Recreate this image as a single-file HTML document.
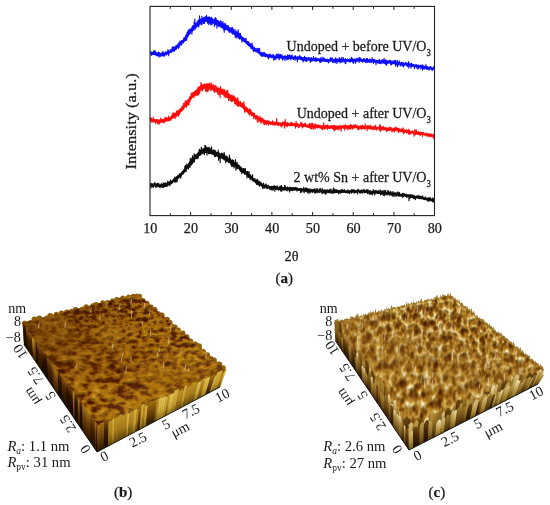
<!DOCTYPE html>
<html lang="en"><head><meta charset="utf-8"><title>Figure</title>
<style>html,body{margin:0;padding:0;background:#fff}body{width:550px;height:505px;overflow:hidden}svg{display:block}</style>
</head><body>
<svg width="550" height="505" viewBox="0 0 550 505">
<defs>
<filter id="soft" x="-5%" y="-5%" width="110%" height="110%"><feGaussianBlur stdDeviation="0.55"/></filter>
<filter id="soft2" x="-5%" y="-5%" width="110%" height="110%"><feGaussianBlur stdDeviation="0.35"/></filter>
<filter id="tex1" x="0" y="0" width="1" height="1" color-interpolation-filters="sRGB">
<feTurbulence type="fractalNoise" baseFrequency="0.175 0.27" numOctaves="2" seed="5" result="n0"/>
<feColorMatrix in="n0" type="matrix" values="1 0 0 0 0  1 0 0 0 0  1 0 0 0 0  0 0 0 0 1" result="n"/>
<feTurbulence type="fractalNoise" baseFrequency="0.03 0.05" numOctaves="2" seed="9" result="lo0"/>
<feColorMatrix in="lo0" type="matrix" values="1 0 0 0 0  1 0 0 0 0  1 0 0 0 0  0 0 0 0 1" result="lo"/>
<feComposite in="n" in2="lo" operator="arithmetic" k1="0" k2="1" k3="0.45" k4="-0.225" result="hh"/>
<feColorMatrix in="hh" type="matrix" values="0 0 0 0 0  0 0 0 0 0  0 0 0 0 0  1.6 0 0 0 -0.3" result="h"/>
<feDiffuseLighting in="h" surfaceScale="2.5" diffuseConstant="1.3" lighting-color="#fff" result="light"><feDistantLight azimuth="250" elevation="60"/></feDiffuseLighting>
<feComponentTransfer in="hh" result="col">
<feFuncR type="table" tableValues="0.27 0.28 0.30 0.35 0.47 0.61 0.67 0.71 0.75 0.82 0.90"/>
<feFuncG type="table" tableValues="0.08 0.08 0.10 0.13 0.24 0.38 0.44 0.48 0.54 0.63 0.76"/>
<feFuncB type="table" tableValues="0.02 0.02 0.02 0.02 0.02 0.04 0.05 0.07 0.12 0.22 0.40"/>
</feComponentTransfer>
<feComposite in="col" in2="light" operator="arithmetic" k1="0.4" k2="0.6" k3="0" k4="0"/>
</filter>
<filter id="tex1f" x="0" y="0" width="1" height="1" color-interpolation-filters="sRGB">
<feTurbulence type="fractalNoise" baseFrequency="0.12 0.185" numOctaves="2" seed="6" result="n0"/>
<feColorMatrix in="n0" type="matrix" values="1 0 0 0 0  1 0 0 0 0  1 0 0 0 0  0 0 0 0 1" result="n"/>
<feTurbulence type="fractalNoise" baseFrequency="0.03 0.05" numOctaves="2" seed="9" result="lo0"/>
<feColorMatrix in="lo0" type="matrix" values="1 0 0 0 0  1 0 0 0 0  1 0 0 0 0  0 0 0 0 1" result="lo"/>
<feComposite in="n" in2="lo" operator="arithmetic" k1="0" k2="1" k3="0.45" k4="-0.225" result="hh"/>
<feColorMatrix in="hh" type="matrix" values="0 0 0 0 0  0 0 0 0 0  0 0 0 0 0  1.6 0 0 0 -0.3" result="h"/>
<feDiffuseLighting in="h" surfaceScale="2.5" diffuseConstant="1.3" lighting-color="#fff" result="light"><feDistantLight azimuth="250" elevation="60"/></feDiffuseLighting>
<feComponentTransfer in="hh" result="col">
<feFuncR type="table" tableValues="0.27 0.28 0.30 0.35 0.47 0.61 0.67 0.71 0.75 0.82 0.90"/>
<feFuncG type="table" tableValues="0.08 0.08 0.10 0.13 0.24 0.38 0.44 0.48 0.54 0.63 0.76"/>
<feFuncB type="table" tableValues="0.02 0.02 0.02 0.02 0.02 0.04 0.05 0.07 0.12 0.22 0.40"/>
</feComponentTransfer>
<feComposite in="col" in2="light" operator="arithmetic" k1="0.4" k2="0.6" k3="0" k4="0"/>
</filter>
<filter id="tex2" x="0" y="0" width="1" height="1" color-interpolation-filters="sRGB">
<feTurbulence type="fractalNoise" baseFrequency="0.21 0.14" numOctaves="2" seed="8" result="n0"/>
<feColorMatrix in="n0" type="matrix" values="1.4 0 0 0 -0.2  1.4 0 0 0 -0.2  1.4 0 0 0 -0.2  0 0 0 0 1" result="n"/>
<feColorMatrix in="n" type="matrix" values="0 0 0 0 0  0 0 0 0 0  0 0 0 0 0  1 0 0 0 0" result="h"/>
<feDiffuseLighting in="h" surfaceScale="3" diffuseConstant="1.25" lighting-color="#fff" result="light"><feDistantLight azimuth="265" elevation="55"/></feDiffuseLighting>
<feComponentTransfer in="n" result="col">
<feFuncR type="table" tableValues="0.30 0.34 0.40 0.48 0.57 0.65 0.73 0.81 0.88 0.93 0.97"/>
<feFuncG type="table" tableValues="0.13 0.16 0.21 0.28 0.37 0.46 0.56 0.67 0.77 0.85 0.92"/>
<feFuncB type="table" tableValues="0.02 0.02 0.03 0.05 0.09 0.14 0.22 0.35 0.50 0.64 0.78"/>
</feComponentTransfer>
<feComposite in="col" in2="light" operator="arithmetic" k1="0.45" k2="0.58" k3="0" k4="0"/>
</filter>
<filter id="tex2f" x="0" y="0" width="1" height="1" color-interpolation-filters="sRGB">
<feTurbulence type="fractalNoise" baseFrequency="0.16 0.105" numOctaves="2" seed="4" result="n0"/>
<feColorMatrix in="n0" type="matrix" values="1.4 0 0 0 -0.2  1.4 0 0 0 -0.2  1.4 0 0 0 -0.2  0 0 0 0 1" result="n"/>
<feColorMatrix in="n" type="matrix" values="0 0 0 0 0  0 0 0 0 0  0 0 0 0 0  1 0 0 0 0" result="h"/>
<feDiffuseLighting in="h" surfaceScale="3" diffuseConstant="1.25" lighting-color="#fff" result="light"><feDistantLight azimuth="265" elevation="55"/></feDiffuseLighting>
<feComponentTransfer in="n" result="col">
<feFuncR type="table" tableValues="0.30 0.34 0.40 0.48 0.57 0.65 0.73 0.81 0.88 0.93 0.97"/>
<feFuncG type="table" tableValues="0.13 0.16 0.21 0.28 0.37 0.46 0.56 0.67 0.77 0.85 0.92"/>
<feFuncB type="table" tableValues="0.02 0.02 0.03 0.05 0.09 0.14 0.22 0.35 0.50 0.64 0.78"/>
</feComponentTransfer>
<feComposite in="col" in2="light" operator="arithmetic" k1="0.45" k2="0.58" k3="0" k4="0"/>
</filter>
</defs>
<rect width="550" height="505" fill="#fff"/>
<g stroke-linejoin="round" filter="url(#soft2)">
<path d="M150.4,53.2 150.6,53.7 150.8,52.9 150.9,51.9 151.1,52.6 151.3,51.9 151.5,53.5 151.6,55.4 151.8,52.7 152,52.5 152.2,54.2 152.4,54.1 152.5,53.7 152.7,52.2 152.9,53.6 153.1,54.7 153.2,51.7 153.4,53 153.6,50.9 153.8,51.9 153.9,51.1 154.1,53.5 154.3,52 154.5,54.3 154.7,54.2 154.8,53.7 155,50.3 155.2,53.3 155.4,54 155.5,54.3 155.7,51.9 155.9,53.5 156.1,52.7 156.3,53 156.4,55.8 156.6,53 156.8,54.2 157,55.6 157.1,53.4 157.3,54.1 157.5,54.4 157.7,54.4 157.9,52.5 158,54.4 158.2,56.3 158.4,52.1 158.6,55.6 158.7,54.5 158.9,53.4 159.1,57.3 159.3,55.5 159.5,52.6 159.6,54.5 159.8,55.3 160,54.1 160.2,55.4 160.3,54.3 160.5,55.4 160.7,56.6 160.9,53.5 161,54.8 161.2,53.8 161.4,54.6 161.6,52.7 161.8,53.5 161.9,54.1 162.1,55.7 162.3,56 162.5,52.3 162.6,53 162.8,55.1 163,51.2 163.2,53.4 163.4,53.9 163.5,55.9 163.7,55 163.9,53.4 164.1,53.3 164.2,53.5 164.4,56.1 164.6,53.1 164.8,53.3 165,54.2 165.1,53.5 165.3,53.3 165.5,51.9 165.7,53.5 165.8,52.8 166,55.2 166.2,54.4 166.4,53.3 166.6,54.3 166.7,52.7 166.9,54.8 167.1,53.1 167.3,53.9 167.4,51 167.6,53.4 167.8,50.2 168,49.6 168.1,52.2 168.3,51.2 168.5,52.7 168.7,55.8 168.9,51 169,51.2 169.2,52.4 169.4,52.7 169.6,51.6 169.7,51.5 169.9,52.8 170.1,52.4 170.3,49.9 170.5,51.3 170.6,51.4 170.8,49.6 171,51.6 171.2,49.7 171.3,52.5 171.5,51.2 171.7,50.9 171.9,49.8 172.1,50.4 172.2,47.3 172.4,48.6 172.6,50.8 172.8,46.7 172.9,51.3 173.1,47.1 173.3,50.9 173.5,48.2 173.7,50.7 173.8,49.5 174,46.7 174.2,51 174.4,51.2 174.5,48.6 174.7,48.1 174.9,48.2 175.1,46.7 175.2,50 175.4,47.1 175.6,47.8 175.8,46.4 176,46.6 176.1,45.3 176.3,49.4 176.5,46.9 176.7,48.7 176.8,46.9 177,45.6 177.2,46.1 177.4,45.5 177.6,46.4 177.7,45.6 177.9,45.5 178.1,43.5 178.3,44.3 178.4,48.4 178.6,44.2 178.8,43.4 179,45.7 179.2,47.4 179.3,42.2 179.5,44.2 179.7,43.3 179.9,41.1 180,45.3 180.2,43.8 180.4,43.8 180.6,42.2 180.8,44.2 180.9,42.2 181.1,42.8 181.3,40.8 181.5,40.5 181.6,44.9 181.8,41.4 182,42.7 182.2,41.9 182.3,41 182.5,40.7 182.7,42.6 182.9,40.7 183.1,40.8 183.2,40.9 183.4,42.9 183.6,41.7 183.8,41 183.9,39 184.1,37.2 184.3,41.4 184.5,41.2 184.7,38.8 184.8,39.9 185,40.1 185.2,40 185.4,39.9 185.5,37 185.7,40.6 185.9,35 186.1,38.9 186.3,37.9 186.4,38.5 186.6,40.2 186.8,39.2 187,33.7 187.1,32.4 187.3,37.2 187.5,33.3 187.7,35.1 187.8,36.6 188,31.3 188.2,30.1 188.4,34.7 188.6,34 188.7,33.2 188.9,33.6 189.1,31.5 189.3,29.9 189.4,32.5 189.6,30.6 189.8,28.9 190,33.3 190.2,31.9 190.3,32.6 190.5,29.4 190.7,29.9 190.9,29 191,29 191.2,31.1 191.4,28.8 191.6,31 191.8,30.8 191.9,34.3 192.1,26.5 192.3,31.3 192.5,29 192.6,28.9 192.8,25.5 193,27.5 193.2,30 193.4,27.9 193.5,28.1 193.7,27 193.9,30.1 194.1,27.2 194.2,22.1 194.4,25.3 194.6,22.2 194.8,19.1 194.9,25.2 195.1,29.3 195.3,26.2 195.5,23.2 195.7,23.5 195.8,28.2 196,25.7 196.2,25.3 196.4,24.9 196.5,24.9 196.7,26.6 196.9,25.8 197.1,24.9 197.3,21.7 197.4,25.2 197.6,22.2 197.8,26.3 198,20.5 198.1,23 198.3,23.1 198.5,19.8 198.7,27 198.9,26.2 199,21.4 199.2,24.3 199.4,23.2 199.6,15.8 199.7,22.6 199.9,21.8 200.1,22 200.3,19.1 200.5,20.9 200.6,21 200.8,24.3 201,22.1 201.2,21.1 201.3,24.8 201.5,19.6 201.7,19.8 201.9,16.2 202,24.4 202.2,22.8 202.4,22.6 202.6,21.9 202.8,20.4 202.9,20.6 203.1,19.3 203.3,19.3 203.5,19.9 203.6,23.4 203.8,21 204,19.4 204.2,18.1 204.4,17.9 204.5,23.5 204.7,20.7 204.9,19.6 205.1,18.6 205.2,16.6 205.4,19.2 205.6,21.5 205.8,18.4 206,18.8 206.1,18.8 206.3,19.6 206.5,15.3 206.7,18.7 206.8,17.1 207,21.5 207.2,17.4 207.4,20.8 207.6,23.2 207.7,18.6 207.9,18 208.1,20 208.3,19.6 208.4,17.1 208.6,20.8 208.8,24.7 209,19.1 209.1,19.3 209.3,17.3 209.5,20.7 209.7,16.9 209.9,17.3 210,23.2 210.2,17.9 210.4,22.9 210.6,24 210.7,21 210.9,21.7 211.1,25.3 211.3,20 211.5,19.1 211.6,17.3 211.8,20.9 212,24.4 212.2,23.2 212.3,18.7 212.5,19 212.7,19.9 212.9,21.9 213.1,20.8 213.2,21.9 213.4,22.1 213.6,20.8 213.8,21.5 213.9,22.1 214.1,21.5 214.3,23 214.5,26.4 214.6,23.4 214.8,22.1 215,18 215.2,23.1 215.4,17.5 215.5,18.9 215.7,24.4 215.9,24.2 216.1,22.2 216.2,18.5 216.4,21.8 216.6,21.2 216.8,24.4 217,28.3 217.1,23.5 217.3,21.2 217.5,20.4 217.7,23.1 217.8,22.9 218,20.7 218.2,23.8 218.4,20.9 218.6,26.3 218.7,26.3 218.9,26.4 219.1,22.8 219.3,25.2 219.4,23.8 219.6,23.3 219.8,23.5 220,21.3 220.2,21 220.3,26.4 220.5,24.1 220.7,25.2 220.9,27.1 221,20.8 221.2,23.1 221.4,25.4 221.6,26 221.7,24.3 221.9,27.7 222.1,25.9 222.3,22.7 222.5,23.4 222.6,27.5 222.8,26.8 223,21.5 223.2,29.1 223.3,27.4 223.5,29.2 223.7,25.4 223.9,25.7 224.1,23.8 224.2,32.3 224.4,26.2 224.6,30.3 224.8,25.3 224.9,27.3 225.1,23.2 225.3,26.2 225.5,29.4 225.7,24.4 225.8,29.8 226,28.2 226.2,25.2 226.4,26.5 226.5,26.7 226.7,27.7 226.9,26.8 227.1,26.2 227.3,27.5 227.4,26 227.6,25.5 227.8,28.4 228,30.6 228.1,25.3 228.3,28.9 228.5,27.5 228.7,26.9 228.8,31.1 229,28.2 229.2,32.7 229.4,27.8 229.6,30.5 229.7,29.3 229.9,28.2 230.1,31.3 230.3,29.8 230.4,31.5 230.6,30.2 230.8,28.1 231,30.3 231.2,30.8 231.3,32.9 231.5,28.9 231.7,30.9 231.9,27.4 232,32.6 232.2,29 232.4,27.6 232.6,31.5 232.8,34.1 232.9,28.6 233.1,29.6 233.3,30.5 233.5,29.8 233.6,33.1 233.8,30.7 234,31 234.2,33.9 234.4,31.2 234.5,33.8 234.7,31 234.9,30.6 235.1,29.4 235.2,37.2 235.4,32.8 235.6,34.1 235.8,33.6 235.9,34.2 236.1,34.1 236.3,38 236.5,32 236.7,31.1 236.8,32.3 237,31.8 237.2,36.2 237.4,36.5 237.5,32.9 237.7,32.2 237.9,34.4 238.1,38.1 238.3,29.7 238.4,36.6 238.6,33.5 238.8,37.9 239,33.8 239.1,35.6 239.3,33.3 239.5,34.5 239.7,39.3 239.9,38.4 240,36.1 240.2,35.3 240.4,33.4 240.6,36.5 240.7,37.4 240.9,37.4 241.1,37.6 241.3,35.7 241.5,37.9 241.6,38.1 241.8,40.9 242,42.1 242.2,38.4 242.3,37.3 242.5,38.8 242.7,37.9 242.9,37.8 243,39.3 243.2,37.5 243.4,40.8 243.6,39.7 243.8,40.5 243.9,39.8 244.1,39 244.3,38.7 244.5,40.2 244.6,39.8 244.8,41.4 245,41.1 245.2,38.8 245.4,41.6 245.5,39.1 245.7,40.6 245.9,41.4 246.1,38.3 246.2,42.4 246.4,42.7 246.6,42.3 246.8,42 247,42.2 247.1,41.3 247.3,42.7 247.5,42.4 247.7,43.7 247.8,41.6 248,44.3 248.2,44.3 248.4,43.9 248.5,43.6 248.7,45.5 248.9,41.7 249.1,45.6 249.3,45.4 249.4,45.6 249.6,45.9 249.8,44.3 250,45.1 250.1,46.8 250.3,46.6 250.5,46.4 250.7,43.6 250.9,47.2 251,48.5 251.2,48.3 251.4,47.2 251.6,44.3 251.7,48.7 251.9,47 252.1,43.1 252.3,48.2 252.5,45.2 252.6,45.7 252.8,46.9 253,50.2 253.2,47.7 253.3,48.9 253.5,51.5 253.7,51.3 253.9,48.7 254.1,48.6 254.2,47.1 254.4,48.1 254.6,50.1 254.8,50.1 254.9,49.8 255.1,51.3 255.3,48.6 255.5,49.9 255.6,51.2 255.8,51.1 256,52 256.2,51.1 256.4,50.1 256.5,51.2 256.7,49.2 256.9,48.3 257.1,51.9 257.2,51 257.4,51.7 257.6,48.7 257.8,50.9 258,50.7 258.1,50.4 258.3,48.3 258.5,51.4 258.7,53.4 258.8,52.8 259,51.4 259.2,52.4 259.4,53.6 259.6,48.4 259.7,52.5 259.9,53.6 260.1,53.9 260.3,55.5 260.4,54.7 260.6,53.6 260.8,53.6 261,54.4 261.2,52.5 261.3,53.3 261.5,54.8 261.7,56.5 261.9,53.4 262,53.6 262.2,54.1 262.4,55.9 262.6,53.9 262.7,56.2 262.9,52.7 263.1,53.9 263.3,54 263.5,55.5 263.6,55.9 263.8,52.3 264,53.2 264.2,55.1 264.3,53.8 264.5,52.6 264.7,56.4 264.9,55.6 265.1,55.7 265.2,54.3 265.4,56.6 265.6,54.8 265.8,56.8 265.9,53.9 266.1,54 266.3,55.6 266.5,54.3 266.7,56.4 266.8,55.8 267,54.2 267.2,55.6 267.4,55.1 267.5,56.9 267.7,54.7 267.9,55.1 268.1,57.5 268.3,59 268.4,58.7 268.6,56 268.8,56.2 269,58.1 269.1,55.8 269.3,54.6 269.5,56.2 269.7,56.8 269.8,55 270,53.8 270.2,54.2 270.4,57.2 270.6,55.2 270.7,56.1 270.9,56.6 271.1,57.2 271.3,55.9 271.4,57 271.6,55.1 271.8,55.9 272,55 272.2,58 272.3,56.4 272.5,55.4 272.7,56 272.9,56.2 273,57.5 273.2,54.3 273.4,55.1 273.6,56 273.8,60.1 273.9,57.9 274.1,56.5 274.3,57.6 274.5,59.5 274.6,56.3 274.8,56.2 275,58.4 275.2,57.4 275.4,57.7 275.5,56 275.7,59.5 275.9,59.2 276.1,57.6 276.2,57.8 276.4,54 276.6,57.7 276.8,56.6 276.9,57.5 277.1,57.8 277.3,56.4 277.5,54.5 277.7,57.4 277.8,55.9 278,56.5 278.2,56.1 278.4,56.5 278.5,53.8 278.7,58.7 278.9,57.4 279.1,58.6 279.3,59.8 279.4,57.1 279.6,54.5 279.8,55.8 280,55.4 280.1,56.4 280.3,57.2 280.5,54.3 280.7,57.6 280.9,55 281,57.6 281.2,57 281.4,56.7 281.6,57.1 281.7,56.5 281.9,56.4 282.1,54.9 282.3,57.2 282.4,59.8 282.6,60 282.8,59.1 283,58.3 283.2,56.4 283.3,59.3 283.5,57.3 283.7,57.2 283.9,56.9 284,57.5 284.2,56.8 284.4,57.3 284.6,55.9 284.8,56.9 284.9,60.6 285.1,57.3 285.3,57.1 285.5,58.2 285.6,58.4 285.8,55.9 286,57.2 286.2,58.7 286.4,57.9 286.5,57.7 286.7,59.7 286.9,56.6 287.1,57.6 287.2,56.8 287.4,59.6 287.6,54.9 287.8,56.6 288,56.8 288.1,58.5 288.3,58.4 288.5,59.5 288.7,55.4 288.8,58.7 289,57.2 289.2,56.7 289.4,58.4 289.5,56.4 289.7,54.8 289.9,57.2 290.1,55.6 290.3,56.8 290.4,58.2 290.6,58.2 290.8,59.9 291,57.5 291.1,55.6 291.3,56.7 291.5,56.5 291.7,56.1 291.9,58.4 292,56.9 292.2,55.1 292.4,58.8 292.6,57.7 292.7,58.3 292.9,58 293.1,58.8 293.3,58 293.5,59.6 293.6,58.5 293.8,58.5 294,58.5 294.2,56 294.3,57.8 294.5,57.6 294.7,58.3 294.9,56.2 295.1,60.3 295.2,58.2 295.4,56.4 295.6,55.7 295.8,57.7 295.9,58 296.1,57.1 296.3,58.3 296.5,57.3 296.6,58.9 296.8,57.2 297,58.1 297.2,59.5 297.4,61.7 297.5,56.9 297.7,57.6 297.9,57.1 298.1,59.3 298.2,56.7 298.4,57.6 298.6,58.3 298.8,57 299,57 299.1,57.7 299.3,55.5 299.5,56.4 299.7,57.8 299.8,58.6 300,58.2 300.2,56 300.4,57.8 300.6,59.5 300.7,59.2 300.9,58.4 301.1,57.3 301.3,59.4 301.4,57.8 301.6,57 301.8,57.5 302,60.5 302.2,58.9 302.3,60.2 302.5,58 302.7,59.9 302.9,57.8 303,58.4 303.2,62 303.4,59.7 303.6,58 303.7,58.6 303.9,59.2 304.1,60.4 304.3,58.1 304.5,56.4 304.6,58.4 304.8,58.8 305,59 305.2,60.6 305.3,59.3 305.5,59.9 305.7,57.4 305.9,60 306.1,61.7 306.2,59.9 306.4,59.3 306.6,59.1 306.8,61.3 306.9,57.7 307.1,58.8 307.3,59.6 307.5,60 307.7,58.4 307.8,59.4 308,58.7 308.2,59.2 308.4,58.9 308.5,57.6 308.7,59.1 308.9,60.3 309.1,57.8 309.2,58.8 309.4,60 309.6,57.7 309.8,59.4 310,57.8 310.1,60.7 310.3,62.3 310.5,61.9 310.7,59 310.8,60.2 311,59.4 311.2,59.4 311.4,61.3 311.6,57.5 311.7,60.7 311.9,59.3 312.1,61.2 312.3,59.6 312.4,58.5 312.6,59.7 312.8,60.3 313,59.4 313.2,60 313.3,58.7 313.5,56.6 313.7,60.6 313.9,60.4 314,59.6 314.2,59.6 314.4,60.8 314.6,58.9 314.8,58.6 314.9,59.3 315.1,61.1 315.3,57.7 315.5,61.1 315.6,58.7 315.8,58.1 316,61.2 316.2,59.5 316.3,57.9 316.5,59.1 316.7,60.8 316.9,61.2 317.1,59.1 317.2,60.2 317.4,60.6 317.6,58.8 317.8,60.1 317.9,59.6 318.1,59 318.3,59.1 318.5,59.8 318.7,59.8 318.8,59 319,59.2 319.2,61.2 319.4,60.1 319.5,61 319.7,61.4 319.9,60.6 320.1,62.8 320.3,58.8 320.4,60.9 320.6,59.4 320.8,62.3 321,62.1 321.1,57.3 321.3,58.6 321.5,60.8 321.7,61 321.9,60.9 322,59.9 322.2,60.6 322.4,60.8 322.6,59.9 322.7,61.3 322.9,57 323.1,60.8 323.3,58.7 323.4,61.3 323.6,59.7 323.8,58.9 324,60.6 324.2,58.9 324.3,58.9 324.5,58.1 324.7,60.1 324.9,60.8 325,61.5 325.2,60 325.4,61.5 325.6,60.2 325.8,60.1 325.9,60.9 326.1,61.6 326.3,59.8 326.5,59.9 326.6,60 326.8,60.3 327,59.1 327.2,61.6 327.4,59.8 327.5,60.9 327.7,59.2 327.9,60.8 328.1,60.8 328.2,59.8 328.4,63 328.6,60.8 328.8,62.7 329,61.6 329.1,59.5 329.3,59.9 329.5,61 329.7,60.5 329.8,60.5 330,60.1 330.2,58.1 330.4,60.2 330.5,57.6 330.7,61 330.9,59.5 331.1,59.6 331.3,60.2 331.4,60.8 331.6,58.6 331.8,58.2 332,59.1 332.1,57.9 332.3,59.2 332.5,62.5 332.7,59.1 332.9,61.3 333,58.7 333.2,60.9 333.4,60.1 333.6,60.4 333.7,61.2 333.9,62.8 334.1,60.7 334.3,60.6 334.5,59.2 334.6,61.2 334.8,60.2 335,61.5 335.2,60.4 335.3,62.7 335.5,57.9 335.7,60.1 335.9,61.6 336.1,60 336.2,59.4 336.4,60.1 336.6,58.7 336.8,60.6 336.9,63.6 337.1,61.9 337.3,59 337.5,59.3 337.6,59.9 337.8,61.8 338,59.4 338.2,59.6 338.4,61.6 338.5,61.6 338.7,60 338.9,59 339.1,58.4 339.2,59.5 339.4,57.6 339.6,61.4 339.8,59.6 340,61.1 340.1,62.9 340.3,62 340.5,58.9 340.7,61.6 340.8,61.9 341,59.5 341.2,59.2 341.4,60.3 341.6,58.4 341.7,62.3 341.9,57.3 342.1,59 342.3,60.1 342.4,60.1 342.6,60.6 342.8,60.8 343,60.1 343.1,61.9 343.3,57.6 343.5,60.4 343.7,59.5 343.9,60.6 344,60.7 344.2,59.2 344.4,59.6 344.6,61.4 344.7,60.9 344.9,59.5 345.1,63 345.3,63.4 345.5,58.5 345.6,60.8 345.8,63.6 346,61.4 346.2,60.7 346.3,60.1 346.5,59.7 346.7,60.1 346.9,59.7 347.1,61.3 347.2,59.8 347.4,59.8 347.6,58.8 347.8,60.3 347.9,59.2 348.1,60.1 348.3,61.7 348.5,60.8 348.7,61 348.8,60.8 349,60.4 349.2,60.2 349.4,59.9 349.5,61.3 349.7,58.9 349.9,62.1 350.1,60.4 350.2,59.3 350.4,59.7 350.6,59.4 350.8,60.5 351,59.4 351.1,61.8 351.3,59.3 351.5,57.3 351.7,59.3 351.8,57.7 352,60.2 352.2,61.7 352.4,61.1 352.6,58.5 352.7,59.3 352.9,62.6 353.1,60.7 353.3,60.3 353.4,61.6 353.6,63.5 353.8,61.9 354,60.4 354.2,60.7 354.3,61.1 354.5,59.5 354.7,58.9 354.9,60.3 355,59 355.2,60.2 355.4,60.4 355.6,63.3 355.8,59.1 355.9,60.1 356.1,60 356.3,60.8 356.5,61.6 356.6,59.6 356.8,59.1 357,58.1 357.2,59 357.3,60.9 357.5,60.3 357.7,58.9 357.9,59.7 358.1,60.3 358.2,60.9 358.4,59.4 358.6,59.9 358.8,57.9 358.9,58.7 359.1,62.4 359.3,57.4 359.5,59.8 359.7,60.6 359.8,59.8 360,59.2 360.2,60.2 360.4,60.3 360.5,60.2 360.7,57.9 360.9,60.1 361.1,59.2 361.3,59.6 361.4,60.6 361.6,61.2 361.8,61.5 362,59.7 362.1,61.6 362.3,61.9 362.5,61.9 362.7,62.2 362.9,60.2 363,60.2 363.2,61.5 363.4,58.7 363.6,60.7 363.7,59.8 363.9,60 364.1,58.2 364.3,59.3 364.4,60.4 364.6,61.6 364.8,61.8 365,60.4 365.2,60.3 365.3,59.4 365.5,61 365.7,60.2 365.9,61.3 366,62.8 366.2,60.5 366.4,58.6 366.6,59.5 366.8,58.7 366.9,59 367.1,62.3 367.3,60.9 367.5,58.6 367.6,61.5 367.8,62.2 368,60.2 368.2,59.8 368.4,60.2 368.5,61 368.7,61.5 368.9,62.2 369.1,62.2 369.2,62.2 369.4,62.4 369.6,61.5 369.8,58.7 370,60.5 370.1,61.1 370.3,60.2 370.5,61.9 370.7,60.3 370.8,59.6 371,62.6 371.2,61.6 371.4,61.1 371.5,62 371.7,62.2 371.9,61.2 372.1,57.7 372.3,60 372.4,60.3 372.6,59.6 372.8,61.1 373,62.4 373.1,60.3 373.3,59.5 373.5,63.5 373.7,60.4 373.9,59.4 374,61.3 374.2,61.5 374.4,60.1 374.6,62 374.7,60.4 374.9,59.9 375.1,61.3 375.3,62.1 375.5,60.3 375.6,61.5 375.8,61 376,64.7 376.2,60.2 376.3,62.9 376.5,61.1 376.7,61 376.9,62.1 377,62.3 377.2,62.8 377.4,61.7 377.6,60.5 377.8,60.6 377.9,61.9 378.1,62 378.3,63.1 378.5,61.9 378.6,62.7 378.8,63.3 379,61.6 379.2,59.5 379.4,59.9 379.5,59.6 379.7,63.4 379.9,60.4 380.1,63 380.2,62.2 380.4,63.7 380.6,62.8 380.8,61.4 381,61.3 381.1,61.7 381.3,61.8 381.5,60.9 381.7,61.5 381.8,63.6 382,59.5 382.2,62 382.4,60.5 382.6,61.9 382.7,62.7 382.9,61.6 383.1,62.7 383.3,59.7 383.4,63.1 383.6,61 383.8,62.5 384,62 384.1,58.5 384.3,60.9 384.5,62.1 384.7,63.8 384.9,62.2 385,62.2 385.2,60.1 385.4,63.7 385.6,64.2 385.7,62 385.9,61.7 386.1,59.9 386.3,63.1 386.5,65.4 386.6,62.9 386.8,63.6 387,62.8 387.2,60.9 387.3,63.8 387.5,60.6 387.7,61.9 387.9,62.5 388.1,63.3 388.2,62.7 388.4,62.7 388.6,61.3 388.8,60.7 388.9,62.4 389.1,61.4 389.3,60.7 389.5,60.8 389.7,61.8 389.8,60.1 390,60.8 390.2,60.4 390.4,62.7 390.5,63 390.7,65 390.9,60.7 391.1,61.7 391.2,63.7 391.4,62.3 391.6,62.2 391.8,64.7 392,62.2 392.1,61.3 392.3,61.1 392.5,63.1 392.7,63.1 392.8,61.1 393,61.6 393.2,63.5 393.4,63.5 393.6,62.1 393.7,63.6 393.9,63.6 394.1,60.7 394.3,62.5 394.4,63.5 394.6,62.3 394.8,60.4 395,62.7 395.2,63.9 395.3,65 395.5,60.4 395.7,66.3 395.9,61.7 396,64.3 396.2,64.7 396.4,64.4 396.6,63.4 396.8,61.8 396.9,64 397.1,62.4 397.3,60.2 397.5,66.7 397.6,64.2 397.8,65.5 398,62.3 398.2,65.2 398.3,65.3 398.5,65.3 398.7,63.4 398.9,62 399.1,63.3 399.2,60.9 399.4,61.5 399.6,63.7 399.8,62.4 399.9,63.4 400.1,63.5 400.3,66 400.5,65.2 400.7,63.6 400.8,65.2 401,62.8 401.2,63.4 401.4,64.9 401.5,62.3 401.7,63.5 401.9,62.3 402.1,64 402.3,65.9 402.4,63 402.6,64.2 402.8,62.9 403,62.7 403.1,62.6 403.3,65.8 403.5,66.9 403.7,64.7 403.8,63.3 404,65 404.2,63.8 404.4,65.2 404.6,64.6 404.7,64.6 404.9,65 405.1,63.6 405.3,63.9 405.4,62.3 405.6,63.9 405.8,62.7 406,64.3 406.2,63.3 406.3,64.6 406.5,65.1 406.7,62.9 406.9,63.6 407,63.5 407.2,65.5 407.4,66.6 407.6,65.7 407.8,64.3 407.9,66.4 408.1,63 408.3,66.5 408.5,64 408.6,61.6 408.8,67.9 409,66.7 409.2,63.7 409.4,65.1 409.5,64.7 409.7,65.1 409.9,63.3 410.1,64.2 410.2,65.6 410.4,65.3 410.6,66.5 410.8,65.2 410.9,67.9 411.1,64.3 411.3,65.5 411.5,63 411.7,63.8 411.8,66.8 412,64.2 412.2,65.9 412.4,65.3 412.5,64.2 412.7,65 412.9,64.8 413.1,64.9 413.3,66.4 413.4,66.3 413.6,64.9 413.8,64.5 414,65.9 414.1,65.5 414.3,66.8 414.5,68.7 414.7,66.7 414.9,65.7 415,65.6 415.2,64.8 415.4,64.8 415.6,64.7 415.7,65.4 415.9,65.4 416.1,66.8 416.3,65.5 416.5,65.8 416.6,64.6 416.8,67.9 417,66.7 417.2,68.1 417.3,67 417.5,67.8 417.7,65.9 417.9,67 418,69.3 418.2,64.9 418.4,67.6 418.6,68.2 418.8,66.8 418.9,67.3 419.1,67.9 419.3,65.7 419.5,66.9 419.6,65.5 419.8,65.8 420,65.9 420.2,66.4 420.4,66.8 420.5,67.2 420.7,65.1 420.9,69 421.1,68 421.2,67.6 421.4,66.4 421.6,66.7 421.8,67.5 422,67.3 422.1,65 422.3,67.8 422.5,70.3 422.7,64.9 422.8,68.1 423,67.5 423.2,66.9 423.4,68.6 423.6,65.8 423.7,67.3 423.9,68.8 424.1,67 424.3,66.8 424.4,67.4 424.6,66.8 424.8,69.1 425,66.3 425.1,68.4 425.3,66 425.5,68.2 425.7,67.3 425.9,64.6 426,67.5 426.2,66.4 426.4,67.1 426.6,69.3 426.7,66.4 426.9,66.5 427.1,69.3 427.3,67.8 427.5,69.5 427.6,68.1 427.8,66.8 428,67.7 428.2,69.2 428.3,68.9 428.5,67.9 428.7,68 428.9,67.8 429.1,67.3 429.2,70.1 429.4,68 429.6,66.8 429.8,67.6 429.9,68.9 430.1,68.9 430.3,68 430.5,67.5 430.7,68.3 430.8,66.4 431,66.9 431.2,69.2 431.4,67.8 431.5,68.8 431.7,69.7 431.9,69.1 432.1,68.5 432.2,70.8 432.4,69.2 432.6,68.2 432.8,69.4 433,69 433.1,67.7 433.3,68.7 433.5,68.5 433.7,66.6 433.8,68.5 434,68.4 434.2,68.3" stroke="#0a0aff" stroke-width="1.1" fill="none"/>
<path d="M150.4,51.9 151.5,52 152.6,52.2 153.7,52.4 154.8,52.6 155.9,52.8 157,52.9 158.1,53 159.2,53 160.3,53.1 161.4,53.1 162.5,52.9 163.5,52.7 164.6,52.4 165.7,52.1 166.8,51.8 167.9,51.3 169,50.8 170.1,50.2 171.2,49.6 172.3,49 173.4,48.1 174.5,47.2 175.6,46.3 176.7,45.5 177.8,44.5 178.9,43.5 180,42.4 181.1,41.3 182.2,40.2 183.3,39.1 184.4,37.6 185.5,36.1 186.6,34.6 187.7,33.1 188.8,31.7 189.8,30.3 190.9,28.9 192,27.5 193.1,26.2 194.2,24.9 195.3,23.8 196.4,22.7 197.5,21.6 198.6,20.5 199.7,19.6 200.8,18.9 201.9,18.2 203,17.5 204.1,17.1 205.2,16.9 206.3,16.8 207.4,16.8 208.5,17.1 209.6,17.5 210.7,17.8 211.8,18.3 212.9,18.8 214,19.2 215,19.7 216.1,20.2 217.2,20.7 218.3,21.2 219.4,21.8 220.5,22.3 221.6,22.8 222.7,23.4 223.8,24 224.9,24.6 226,25.2 227.1,25.9 228.2,26.6 229.3,27.3 230.4,28 231.5,28.8 232.6,29.5 233.7,30.3 234.8,31 235.9,31.8 237,32.5 238.1,33.3 239.2,34.2 240.3,35.2 241.3,36.1 242.4,37 243.5,38 244.6,39 245.7,40 246.8,41.1 247.9,42.1 249,43.1 250.1,44.1 251.2,45 252.3,46 253.4,47 254.5,47.8 255.6,48.6 256.7,49.3 257.8,50.1 258.9,50.8 260,51.4 261.1,51.9 262.2,52.4 263.3,52.9 264.4,53.4 265.5,53.8 266.5,54.1 267.6,54.3 268.7,54.6 269.8,54.9 270.9,55 272,55.1 273.1,55.3 274.2,55.4 275.3,55.5 276.4,55.6 277.5,55.7 278.6,55.7 279.7,55.8 280.8,55.9 281.9,56 283,56.1 284.1,56.1 285.2,56.2 286.3,56.3 287.4,56.3 288.5,56.4 289.6,56.4 290.7,56.5 291.8,56.6 292.8,56.7 293.9,56.7 295,56.8 296.1,56.9 297.2,57 298.3,57.1 299.4,57.2 300.5,57.3 301.6,57.4 302.7,57.4 303.8,57.5 304.9,57.6 306,57.7 307.1,57.8 308.2,57.9 309.3,58 310.4,58.1 311.5,58.1 312.6,58.2 313.7,58.3 314.8,58.3 315.9,58.4 317,58.5 318.1,58.5 319.1,58.6 320.2,58.7 321.3,58.8 322.4,58.8 323.5,58.9 324.6,59 325.7,59 326.8,59.1 327.9,59.2 329,59.2 330.1,59.3 331.2,59.4 332.3,59.4 333.4,59.4 334.5,59.3 335.6,59.3 336.7,59.3 337.8,59.3 338.9,59.3 340,59.3 341.1,59.3 342.2,59.3 343.3,59.3 344.3,59.3 345.4,59.3 346.5,59.2 347.6,59.2 348.7,59.2 349.8,59.2 350.9,59.2 352,59.2 353.1,59.1 354.2,59.1 355.3,59.1 356.4,59.1 357.5,59.1 358.6,59.1 359.7,59.1 360.8,59.2 361.9,59.2 363,59.3 364.1,59.3 365.2,59.4 366.3,59.4 367.4,59.5 368.5,59.5 369.6,59.6 370.6,59.6 371.7,59.7 372.8,59.8 373.9,59.8 375,59.9 376.1,60 377.2,60.1 378.3,60.2 379.4,60.3 380.5,60.4 381.6,60.5 382.7,60.6 383.8,60.7 384.9,60.8 386,60.9 387.1,61 388.2,61.1 389.3,61.3 390.4,61.4 391.5,61.5 392.6,61.7 393.7,61.8 394.8,61.9 395.8,62.1 396.9,62.2 398,62.3 399.1,62.5 400.2,62.6 401.3,62.8 402.4,62.9 403.5,63.1 404.6,63.3 405.7,63.4 406.8,63.6 407.9,63.7 409,63.9 410.1,64.1 411.2,64.2 412.3,64.4 413.4,64.5 414.5,64.7 415.6,64.9 416.7,65.1 417.8,65.3 418.9,65.5 420,65.6 421.1,65.8 422.1,66 423.2,66.2 424.3,66.4 425.4,66.5 426.5,66.7 427.6,66.9 428.7,67.1 429.8,67.2 430.9,67.4 432,67.6 433.1,67.8 434.2,67.9 434.2,69.6 433.1,69.5 432,69.3 430.9,69.1 429.8,69 428.7,68.8 427.6,68.6 426.5,68.5 425.4,68.3 424.3,68.2 423.2,68 422.1,67.8 421.1,67.6 420,67.5 418.9,67.3 417.8,67.1 416.7,67 415.6,66.8 414.5,66.6 413.4,66.5 412.3,66.3 411.2,66.2 410.1,66 409,65.9 407.9,65.7 406.8,65.6 405.7,65.4 404.6,65.3 403.5,65.1 402.4,65 401.3,64.8 400.2,64.7 399.1,64.5 398,64.4 396.9,64.3 395.8,64.2 394.8,64 393.7,63.9 392.6,63.8 391.5,63.7 390.4,63.5 389.3,63.4 388.2,63.3 387.1,63.2 386,63 384.9,62.9 383.8,62.8 382.7,62.8 381.6,62.7 380.5,62.6 379.4,62.5 378.3,62.4 377.2,62.3 376.1,62.2 375,62.2 373.9,62.1 372.8,62 371.7,61.9 370.6,61.9 369.6,61.8 368.5,61.8 367.4,61.7 366.3,61.7 365.2,61.6 364.1,61.6 363,61.5 361.9,61.5 360.8,61.5 359.7,61.4 358.6,61.4 357.5,61.3 356.4,61.4 355.3,61.4 354.2,61.4 353.1,61.4 352,61.4 350.9,61.4 349.8,61.5 348.7,61.5 347.6,61.5 346.5,61.5 345.4,61.5 344.3,61.5 343.3,61.5 342.2,61.5 341.1,61.6 340,61.6 338.9,61.6 337.8,61.6 336.7,61.6 335.6,61.6 334.5,61.6 333.4,61.6 332.3,61.6 331.2,61.6 330.1,61.6 329,61.5 327.9,61.4 326.8,61.4 325.7,61.3 324.6,61.2 323.5,61.2 322.4,61.1 321.3,61 320.2,61 319.1,60.9 318.1,60.9 317,60.8 315.9,60.7 314.8,60.7 313.7,60.6 312.6,60.5 311.5,60.5 310.4,60.4 309.3,60.3 308.2,60.2 307.1,60.2 306,60.1 304.9,60 303.8,59.9 302.7,59.8 301.6,59.7 300.5,59.7 299.4,59.6 298.3,59.5 297.2,59.4 296.1,59.3 295,59.2 293.9,59.2 292.8,59.1 291.8,59 290.7,58.9 289.6,58.9 288.5,58.8 287.4,58.8 286.3,58.7 285.2,58.6 284.1,58.6 283,58.5 281.9,58.5 280.8,58.4 279.7,58.3 278.6,58.2 277.5,58.2 276.4,58.1 275.3,58 274.2,57.9 273.1,57.8 272,57.7 270.9,57.6 269.8,57.4 268.7,57.2 267.6,56.9 266.5,56.7 265.5,56.4 264.4,56 263.3,55.6 262.2,55.1 261.1,54.7 260,54.2 258.9,53.6 257.8,52.9 256.7,52.2 255.6,51.5 254.5,50.8 253.4,50 252.3,49.1 251.2,48.2 250.1,47.3 249,46.4 247.9,45.5 246.8,44.5 245.7,43.5 244.6,42.6 243.5,41.6 242.4,40.7 241.3,39.8 240.3,39 239.2,38.1 238.1,37.2 237,36.5 235.9,35.8 234.8,35.1 233.7,34.4 232.6,33.7 231.5,33 230.4,32.3 229.3,31.6 228.2,31 227.1,30.3 226,29.7 224.9,29.1 223.8,28.6 222.7,28 221.6,27.4 220.5,26.9 219.4,26.4 218.3,25.9 217.2,25.4 216.1,25 215,24.5 214,24.1 212.9,23.6 211.8,23.2 210.7,22.8 209.6,22.4 208.5,22.1 207.4,21.8 206.3,21.8 205.2,21.9 204.1,22 203,22.5 201.9,23.1 200.8,23.8 199.7,24.5 198.6,25.3 197.5,26.3 196.4,27.3 195.3,28.3 194.2,29.3 193.1,30.5 192,31.8 190.9,33.1 189.8,34.4 188.8,35.7 187.7,37.1 186.6,38.5 185.5,39.9 184.4,41.3 183.3,42.6 182.2,43.7 181.1,44.7 180,45.8 178.9,46.8 177.8,47.7 176.7,48.6 175.6,49.4 174.5,50.3 173.4,51.1 172.3,51.9 171.2,52.5 170.1,53 169,53.6 167.9,54.1 166.8,54.6 165.7,54.9 164.6,55.1 163.5,55.3 162.5,55.6 161.4,55.8 160.3,55.8 159.2,55.7 158.1,55.6 157,55.6 155.9,55.5 154.8,55.3 153.7,55.1 152.6,54.9 151.5,54.7 150.4,54.6Z" fill="#0a0aff" stroke="none"/>
<path d="M150.4,117.5 150.6,119.5 150.8,120 150.9,120.2 151.1,118.4 151.3,121.1 151.5,118.3 151.6,119.9 151.8,122.3 152,119.2 152.2,119.5 152.4,122 152.5,119.8 152.7,119.9 152.9,120.8 153.1,122.1 153.2,117.1 153.4,119.3 153.6,119 153.8,118.9 153.9,119.3 154.1,119.4 154.3,121.2 154.5,119.4 154.7,120.9 154.8,121.4 155,119.7 155.2,121.1 155.4,123.4 155.5,121.4 155.7,120 155.9,120.9 156.1,119.6 156.3,121.4 156.4,122.3 156.6,119.8 156.8,120.7 157,122.7 157.1,120.3 157.3,121.4 157.5,119.5 157.7,119.9 157.9,120.3 158,124.3 158.2,120.5 158.4,120.4 158.6,120.3 158.7,120.9 158.9,122.1 159.1,121.5 159.3,124.2 159.5,121.5 159.6,123.3 159.8,121.6 160,122.1 160.2,119.1 160.3,121.1 160.5,121.1 160.7,120.9 160.9,118.1 161,122.6 161.2,120.7 161.4,120.6 161.6,120.8 161.8,120.9 161.9,121.8 162.1,119.3 162.3,119.7 162.5,121.5 162.6,121.2 162.8,120.4 163,120.1 163.2,119.7 163.4,120.8 163.5,122.6 163.7,119.2 163.9,123 164.1,121.9 164.2,120 164.4,121.8 164.6,118.4 164.8,117.9 165,118.6 165.1,119.8 165.3,119.9 165.5,119.6 165.7,120.5 165.8,117.1 166,121 166.2,118.1 166.4,119.2 166.6,119.5 166.7,118.3 166.9,117.9 167.1,118.4 167.3,119.8 167.4,120.7 167.6,120.5 167.8,118.1 168,118.3 168.1,118 168.3,120 168.5,116.1 168.7,121 168.9,118.3 169,117.8 169.2,119.4 169.4,120.4 169.6,119.2 169.7,120.2 169.9,118.7 170.1,120.3 170.3,120.3 170.5,118.1 170.6,120.4 170.8,118.3 171,118.1 171.2,116.4 171.3,117.3 171.5,118.9 171.7,115.5 171.9,118.5 172.1,118 172.2,117.7 172.4,113.7 172.6,116.9 172.8,118 172.9,115.6 173.1,116.8 173.3,112.7 173.5,117.5 173.7,115.2 173.8,117.5 174,113 174.2,116.9 174.4,115.3 174.5,116.9 174.7,113.9 174.9,114.2 175.1,118.8 175.2,113.6 175.4,113.7 175.6,114.2 175.8,112.8 176,116.4 176.1,117.2 176.3,113 176.5,111.1 176.7,115.8 176.8,115.6 177,115 177.2,115.4 177.4,111.8 177.6,112.9 177.7,110.6 177.9,110.4 178.1,114.4 178.3,111.4 178.4,116.3 178.6,112.3 178.8,110.9 179,113.3 179.2,114.8 179.3,112.4 179.5,109.2 179.7,111.8 179.9,113.4 180,110 180.2,109.3 180.4,112.3 180.6,110.6 180.8,108.2 180.9,109.3 181.1,108.5 181.3,110.2 181.5,109.7 181.6,111.4 181.8,110.4 182,106.1 182.2,109.5 182.3,110.3 182.5,109.3 182.7,110.2 182.9,107.1 183.1,106.1 183.2,109.4 183.4,105.5 183.6,103.2 183.8,109 183.9,105.4 184.1,106 184.3,103.7 184.5,103.6 184.7,103.7 184.8,104.9 185,106.1 185.2,100.7 185.4,106.4 185.5,102.4 185.7,102.4 185.9,105.6 186.1,103.9 186.3,100.7 186.4,107.2 186.6,101.6 186.8,103.6 187,103.2 187.1,105.4 187.3,101.4 187.5,104.2 187.7,100.4 187.8,104 188,99.9 188.2,100.5 188.4,104.9 188.6,101.4 188.7,100.7 188.9,105 189.1,100.8 189.3,98.2 189.4,101.2 189.6,96.9 189.8,101.6 190,101.6 190.2,97.6 190.3,97.2 190.5,98.7 190.7,98.2 190.9,95.8 191,98.9 191.2,93.1 191.4,96.3 191.6,96.2 191.8,96.2 191.9,97.3 192.1,93.7 192.3,97.5 192.5,95.6 192.6,94.3 192.8,92.5 193,92.7 193.2,95.9 193.4,92.7 193.5,94.8 193.7,96.9 193.9,96.6 194.1,97.6 194.2,93.2 194.4,91.2 194.6,95.9 194.8,94.1 194.9,95.8 195.1,93 195.3,95.6 195.5,94.6 195.7,94.2 195.8,93.5 196,93.1 196.2,92.5 196.4,92.4 196.5,94 196.7,90.3 196.9,95.4 197.1,90.9 197.3,93.3 197.4,90.6 197.6,90 197.8,95.3 198,89.6 198.1,87.1 198.3,88.3 198.5,89 198.7,94.8 198.9,90 199,91.6 199.2,86.8 199.4,89.9 199.6,90.6 199.7,93.2 199.9,87 200.1,90.1 200.3,89.2 200.5,85.9 200.6,88.2 200.8,87.5 201,82.4 201.2,89.4 201.3,89.1 201.5,86.6 201.7,84.3 201.9,91.1 202,88 202.2,89.8 202.4,90.6 202.6,85.8 202.8,88.9 202.9,86.2 203.1,86.6 203.3,86.4 203.5,86.6 203.6,89.3 203.8,86.7 204,86 204.2,85.7 204.4,87.2 204.5,84.1 204.7,85 204.9,86.1 205.1,84.8 205.2,85.9 205.4,84.7 205.6,91.2 205.8,89.5 206,87.2 206.1,86 206.3,91.6 206.5,86.9 206.7,85.8 206.8,86.8 207,86.8 207.2,89.6 207.4,86.1 207.6,91.4 207.7,84 207.9,88 208.1,83.8 208.3,90.9 208.4,85.6 208.6,86.3 208.8,88.8 209,89.7 209.1,83.9 209.3,85.8 209.5,83.3 209.7,87.1 209.9,86.6 210,86 210.2,85.2 210.4,86 210.6,85.2 210.7,88.4 210.9,90.9 211.1,82.5 211.3,87 211.5,86.4 211.6,88.7 211.8,85.2 212,87.3 212.2,85.1 212.3,89.5 212.5,88.1 212.7,87.5 212.9,88.9 213.1,87.5 213.2,84.4 213.4,89.7 213.6,89 213.8,88 213.9,90.8 214.1,91.5 214.3,85.9 214.5,86.8 214.6,92.5 214.8,92.2 215,87.1 215.2,86.1 215.4,87.5 215.5,87.9 215.7,85.4 215.9,89.3 216.1,86.3 216.2,86.5 216.4,91.7 216.6,87.9 216.8,89.5 217,91.2 217.1,91.8 217.3,89.1 217.5,90.1 217.7,88.1 217.8,94.3 218,91.8 218.2,87.7 218.4,90.4 218.6,92.2 218.7,91.7 218.9,95 219.1,94 219.3,89.5 219.4,90.7 219.6,88 219.8,91.6 220,91.5 220.2,97.6 220.3,91.5 220.5,86.5 220.7,89.9 220.9,91.8 221,88.7 221.2,89.7 221.4,91 221.6,92.7 221.7,91.6 221.9,90 222.1,94 222.3,91 222.5,91.2 222.6,89.3 222.8,90.7 223,94.2 223.2,89 223.3,92.7 223.5,94.6 223.7,92.2 223.9,93.7 224.1,90.7 224.2,96.3 224.4,95.9 224.6,94 224.8,89.6 224.9,91.3 225.1,96 225.3,97.8 225.5,94.7 225.7,96.9 225.8,92.8 226,93.8 226.2,94.4 226.4,95.4 226.5,91.1 226.7,96.8 226.9,97.7 227.1,92.3 227.3,91.9 227.4,95.9 227.6,93.7 227.8,90 228,97.2 228.1,95.9 228.3,94.6 228.5,100.4 228.7,96.2 228.8,94.3 229,96.3 229.2,93.9 229.4,94.7 229.6,97.3 229.7,95.3 229.9,95.7 230.1,100.4 230.3,98.8 230.4,98.8 230.6,98.3 230.8,98.3 231,100.5 231.2,97.4 231.3,101.6 231.5,95.6 231.7,97.3 231.9,95 232,97.3 232.2,99.3 232.4,101.4 232.6,97 232.8,98.5 232.9,97.9 233.1,97.2 233.3,96.3 233.5,99.1 233.6,95.4 233.8,99.4 234,99.4 234.2,98.1 234.4,97.4 234.5,96.8 234.7,103.7 234.9,97.1 235.1,103.3 235.2,101.4 235.4,99.5 235.6,98 235.8,102.7 235.9,104.2 236.1,98.8 236.3,100.3 236.5,103.2 236.7,101.8 236.8,105.3 237,100.2 237.2,102.6 237.4,99 237.5,106 237.7,100.3 237.9,97.5 238.1,101.8 238.3,101.9 238.4,106.2 238.6,101.8 238.8,102.6 239,104 239.1,106.1 239.3,103 239.5,105.3 239.7,104.4 239.9,102.9 240,103.8 240.2,103.9 240.4,102.2 240.6,106.5 240.7,101.5 240.9,106.7 241.1,106.4 241.3,104.5 241.5,103.4 241.6,104.6 241.8,106.1 242,106.7 242.2,106 242.3,107.5 242.5,104.7 242.7,106.3 242.9,103 243,107.6 243.2,106.6 243.4,105.7 243.6,108.9 243.8,108.1 243.9,101.7 244.1,107.2 244.3,104.6 244.5,109.4 244.6,112.3 244.8,106.8 245,108.1 245.2,107.6 245.4,108.9 245.5,109.6 245.7,110.9 245.9,106.9 246.1,111.8 246.2,107.4 246.4,109.7 246.6,111.5 246.8,110.8 247,108 247.1,108.6 247.3,109.2 247.5,110.1 247.7,112.4 247.8,108.2 248,111.5 248.2,111.9 248.4,112 248.5,112 248.7,114 248.9,112.3 249.1,113.1 249.3,112.7 249.4,115 249.6,108.7 249.8,114.4 250,111.9 250.1,112 250.3,111 250.5,109.6 250.7,112.3 250.9,111.9 251,114.1 251.2,110.9 251.4,116 251.6,114.2 251.7,113.5 251.9,112.8 252.1,112.9 252.3,112.4 252.5,113.6 252.6,114.6 252.8,114.5 253,112.6 253.2,114.6 253.3,113.8 253.5,115.6 253.7,118.6 253.9,116.7 254.1,115.3 254.2,113.3 254.4,113.8 254.6,113.5 254.8,117.5 254.9,115.2 255.1,116.6 255.3,115.6 255.5,116.9 255.6,119.1 255.8,115.9 256,116.6 256.2,115.9 256.4,118.7 256.5,115.8 256.7,115.8 256.9,115.5 257.1,115.6 257.2,118.7 257.4,122.1 257.6,116.6 257.8,119.8 258,118.8 258.1,116.8 258.3,118.2 258.5,118.4 258.7,117.8 258.8,121.9 259,116.2 259.2,119.8 259.4,119.8 259.6,118.5 259.7,119.7 259.9,120.9 260.1,119.9 260.3,120.4 260.4,120.9 260.6,116.8 260.8,122.2 261,123.5 261.2,121.6 261.3,121.7 261.5,118.2 261.7,120.2 261.9,119.2 262,119.6 262.2,122 262.4,119.5 262.6,120.5 262.7,118 262.9,120.7 263.1,121.1 263.3,120 263.5,120.1 263.6,124 263.8,119.5 264,119.8 264.2,120.3 264.3,123.3 264.5,124.7 264.7,122.1 264.9,120.7 265.1,121.2 265.2,123.4 265.4,120.6 265.6,124 265.8,124 265.9,122.1 266.1,123 266.3,123.2 266.5,124.4 266.7,120.7 266.8,123.9 267,121.7 267.2,121.2 267.4,122.5 267.5,122.1 267.7,121 267.9,120.2 268.1,121.2 268.3,124.7 268.4,125.4 268.6,123.6 268.8,124.4 269,122 269.1,122.7 269.3,123.2 269.5,121.3 269.7,121.5 269.8,123.1 270,122.5 270.2,121.5 270.4,123.6 270.6,122.7 270.7,124.5 270.9,123.1 271.1,122.7 271.3,123.3 271.4,122.9 271.6,122.2 271.8,122.6 272,124.3 272.2,124.1 272.3,125 272.5,120.9 272.7,122.7 272.9,122.7 273,123.5 273.2,122.7 273.4,122.6 273.6,124.5 273.8,123.6 273.9,121.8 274.1,125.3 274.3,124.8 274.5,122.6 274.6,124.6 274.8,122.4 275,125.1 275.2,123.2 275.4,122.4 275.5,123 275.7,122.5 275.9,123.9 276.1,123.8 276.2,123.7 276.4,122.8 276.6,118.5 276.8,123.8 276.9,121 277.1,124 277.3,125.3 277.5,124.1 277.7,123.2 277.8,123.5 278,123.6 278.2,123 278.4,123 278.5,122.5 278.7,125.5 278.9,123.8 279.1,125.2 279.3,123.5 279.4,123.9 279.6,123.6 279.8,124.5 280,125 280.1,124.2 280.3,123 280.5,122.8 280.7,126.2 280.9,123.6 281,123.6 281.2,126 281.4,125.5 281.6,124.7 281.7,123.5 281.9,127.3 282.1,124.6 282.3,124.8 282.4,123.8 282.6,122.1 282.8,122.2 283,124.7 283.2,124.6 283.3,123.8 283.5,122.5 283.7,122.1 283.9,123.7 284,122.1 284.2,125.4 284.4,125.8 284.6,128.1 284.8,125.4 284.9,123.4 285.1,123 285.3,119.5 285.5,123.4 285.6,124 285.8,125.6 286,125.1 286.2,125.1 286.4,124.6 286.5,125.2 286.7,126.3 286.9,122.8 287.1,123.7 287.2,122.4 287.4,126.6 287.6,126.1 287.8,125.4 288,122.7 288.1,124.6 288.3,124.1 288.5,124.5 288.7,124.2 288.8,125.1 289,123.9 289.2,125.6 289.4,124.8 289.5,124.1 289.7,124.3 289.9,123.9 290.1,125.6 290.3,124.1 290.4,124.9 290.6,124 290.8,122.5 291,125.8 291.1,123.1 291.3,125.5 291.5,125.1 291.7,122.3 291.9,123.3 292,123.9 292.2,123.5 292.4,123 292.6,125.7 292.7,124.3 292.9,125.2 293.1,124.1 293.3,125.1 293.5,123.7 293.6,124.7 293.8,125.5 294,124.8 294.2,124.1 294.3,123.3 294.5,125 294.7,125.3 294.9,124.5 295.1,123.8 295.2,125.6 295.4,128.2 295.6,124.5 295.8,125.4 295.9,125.4 296.1,121.4 296.3,125.1 296.5,124 296.6,126.8 296.8,124.6 297,123.9 297.2,124.7 297.4,125.2 297.5,124.3 297.7,125 297.9,123.2 298.1,124.8 298.2,126.1 298.4,127.8 298.6,126.1 298.8,125.5 299,126.7 299.1,126.5 299.3,127.4 299.5,126.6 299.7,125 299.8,125.6 300,125.5 300.2,125.6 300.4,125.5 300.6,124.2 300.7,122.4 300.9,124.4 301.1,122.6 301.3,125.4 301.4,125.3 301.6,123.1 301.8,126.3 302,126.5 302.2,125.5 302.3,127.7 302.5,127.9 302.7,123.8 302.9,126.8 303,126.1 303.2,126 303.4,126.7 303.6,124.5 303.7,124.7 303.9,124.4 304.1,124.5 304.3,125.4 304.5,123.6 304.6,124.2 304.8,126.4 305,125.5 305.2,126.1 305.3,123.1 305.5,124.6 305.7,124.9 305.9,125.7 306.1,124.9 306.2,127 306.4,125.6 306.6,125.8 306.8,125.8 306.9,126.7 307.1,125.1 307.3,127.3 307.5,126.4 307.7,126 307.8,125.9 308,126.5 308.2,127.2 308.4,127.1 308.5,126.4 308.7,127.1 308.9,126.1 309.1,127.6 309.2,125.9 309.4,123.2 309.6,127.7 309.8,126.1 310,124.4 310.1,125.7 310.3,124.8 310.5,128.8 310.7,126.7 310.8,124 311,126.8 311.2,125.5 311.4,128.6 311.6,124.7 311.7,123.1 311.9,126.2 312.1,125.7 312.3,125.6 312.4,123.3 312.6,126.7 312.8,128.4 313,123.7 313.2,127.7 313.3,125.5 313.5,129.3 313.7,126.8 313.9,126 314,127.7 314.2,127 314.4,125.5 314.6,127.2 314.8,125.6 314.9,123.9 315.1,129 315.3,125.9 315.5,125.5 315.6,126.8 315.8,124.3 316,124.6 316.2,125.7 316.3,125.7 316.5,126.5 316.7,127.9 316.9,125.8 317.1,127.1 317.2,127.2 317.4,125 317.6,126.8 317.8,125.2 317.9,127.9 318.1,127.1 318.3,126.5 318.5,124.8 318.7,126.7 318.8,125.5 319,127.5 319.2,126.4 319.4,125.5 319.5,127.8 319.7,127.5 319.9,125.8 320.1,128.1 320.3,126.2 320.4,126.2 320.6,126.8 320.8,125.7 321,126.1 321.1,126.5 321.3,128.7 321.5,128.7 321.7,126.4 321.9,128.8 322,126.7 322.2,127.3 322.4,127.9 322.6,127.2 322.7,129.9 322.9,127.1 323.1,125.2 323.3,128.5 323.4,126.3 323.6,126.4 323.8,122.9 324,128.2 324.2,127.9 324.3,127.9 324.5,128.2 324.7,129.1 324.9,126.9 325,128.2 325.2,126 325.4,126.5 325.6,128.3 325.8,127.5 325.9,125.3 326.1,127.5 326.3,126.8 326.5,126 326.6,127.6 326.8,126.5 327,125 327.2,125.6 327.4,129.4 327.5,125.1 327.7,127.4 327.9,127.9 328.1,127.9 328.2,125.5 328.4,126.7 328.6,127.3 328.8,128.2 329,126.3 329.1,125.7 329.3,128.5 329.5,128.6 329.7,127.7 329.8,126.4 330,127.8 330.2,127.4 330.4,128.3 330.5,125.7 330.7,127.4 330.9,127.1 331.1,125.9 331.3,127.6 331.4,127.3 331.6,126.8 331.8,127.8 332,125.5 332.1,127.2 332.3,127.8 332.5,127.7 332.7,128.7 332.9,125.7 333,125.3 333.2,127.6 333.4,127.9 333.6,130 333.7,128.1 333.9,126.1 334.1,128.3 334.3,126.2 334.5,125.4 334.6,130.6 334.8,127.7 335,128.2 335.2,128 335.3,129.6 335.5,127.6 335.7,128.8 335.9,125.9 336.1,125.5 336.2,129.1 336.4,129.2 336.6,127.9 336.8,127.6 336.9,127.5 337.1,126.4 337.3,129.2 337.5,128.1 337.6,127.9 337.8,127.7 338,128.6 338.2,127.9 338.4,128.2 338.5,125.7 338.7,127.9 338.9,130.1 339.1,126.6 339.2,127.1 339.4,128.4 339.6,128.5 339.8,128 340,125.1 340.1,127.9 340.3,125.7 340.5,126.2 340.7,127.9 340.8,126.8 341,128.3 341.2,131.3 341.4,128.2 341.6,128.2 341.7,126.1 341.9,126.4 342.1,125.8 342.3,126.5 342.4,125.8 342.6,126.4 342.8,126.9 343,125.9 343.1,125.4 343.3,125.4 343.5,127.8 343.7,127.3 343.9,128.5 344,128.6 344.2,126.8 344.4,128.1 344.6,125.3 344.7,130.2 344.9,128.7 345.1,126.9 345.3,125.7 345.5,127.7 345.6,124.8 345.8,126.2 346,128.2 346.2,127.3 346.3,126.5 346.5,128.4 346.7,125.8 346.9,127.5 347.1,126.5 347.2,126.1 347.4,127.8 347.6,125.9 347.8,129.6 347.9,126.4 348.1,129.7 348.3,125.7 348.5,127.9 348.7,125.6 348.8,125.4 349,127.3 349.2,128 349.4,125.5 349.5,128.7 349.7,126.1 349.9,127.3 350.1,127.6 350.2,127.9 350.4,124.8 350.6,129.2 350.8,127.8 351,126.6 351.1,125.8 351.3,124.9 351.5,125.3 351.7,127.8 351.8,126.7 352,125.6 352.2,126.4 352.4,129.1 352.6,126.7 352.7,126.3 352.9,128.8 353.1,127.7 353.3,127.1 353.4,126.3 353.6,125.1 353.8,125.5 354,126.4 354.2,126.8 354.3,127.5 354.5,127.8 354.7,127.3 354.9,127.3 355,125.7 355.2,124.2 355.4,126.4 355.6,125.8 355.8,126.2 355.9,126.7 356.1,125.4 356.3,125.6 356.5,126.9 356.6,127.2 356.8,126.2 357,127.7 357.2,126.7 357.3,125.7 357.5,127.1 357.7,129.5 357.9,126.1 358.1,128.5 358.2,128.8 358.4,129 358.6,126 358.8,129.7 358.9,127.2 359.1,126.7 359.3,126.8 359.5,127.8 359.7,127.1 359.8,126.8 360,128.8 360.2,126.2 360.4,125.7 360.5,128.1 360.7,128 360.9,128.5 361.1,125.7 361.3,128.5 361.4,127.8 361.6,129.4 361.8,125.5 362,127.5 362.1,126.8 362.3,125.1 362.5,126.3 362.7,128.7 362.9,126.6 363,126.3 363.2,128.3 363.4,128.5 363.6,128.5 363.7,126.2 363.9,127.2 364.1,128.6 364.3,126.4 364.4,126.3 364.6,128.4 364.8,129.3 365,125.8 365.2,123.9 365.3,125.4 365.5,126 365.7,127.2 365.9,128.1 366,127.2 366.2,126.4 366.4,127.6 366.6,126.1 366.8,127.3 366.9,126.6 367.1,130.8 367.3,128.5 367.5,126.3 367.6,126.1 367.8,126.9 368,125.3 368.2,126.5 368.4,126.5 368.5,128.6 368.7,126.9 368.9,126.4 369.1,125.7 369.2,126 369.4,127.4 369.6,127.2 369.8,129 370,126.7 370.1,128.9 370.3,127.9 370.5,127.5 370.7,125 370.8,125.9 371,128.5 371.2,129.4 371.4,127.8 371.5,128.6 371.7,127.1 371.9,127.1 372.1,126.8 372.3,128.9 372.4,128.1 372.6,127.4 372.8,127.2 373,128.4 373.1,128.1 373.3,126.6 373.5,129.9 373.7,128.1 373.9,127.8 374,129.7 374.2,129.1 374.4,127.7 374.6,128.5 374.7,126.5 374.9,127 375.1,125 375.3,129.4 375.5,125.5 375.6,128.8 375.8,126.9 376,126.7 376.2,127.7 376.3,128.3 376.5,128.7 376.7,130.2 376.9,128.5 377,129.1 377.2,127.3 377.4,128.9 377.6,128.2 377.8,127.5 377.9,128 378.1,128 378.3,128.4 378.5,128.6 378.6,127.5 378.8,127.2 379,129.1 379.2,126 379.4,127.4 379.5,130.2 379.7,124.8 379.9,127.4 380.1,129.1 380.2,126.2 380.4,131.6 380.6,125 380.8,130.1 381,130.3 381.1,129.5 381.3,128.1 381.5,128.8 381.7,127.3 381.8,129.4 382,127 382.2,128.1 382.4,129.7 382.6,127.1 382.7,128 382.9,128.7 383.1,126.8 383.3,130 383.4,129 383.6,126.6 383.8,128.5 384,127.6 384.1,127.8 384.3,128.7 384.5,127.7 384.7,129.8 384.9,127.8 385,129.9 385.2,128.6 385.4,129.8 385.6,128 385.7,128.1 385.9,127.3 386.1,129.5 386.3,130 386.5,131.5 386.6,130.4 386.8,129.2 387,128.6 387.2,129.4 387.3,128.9 387.5,130.8 387.7,130.1 387.9,127.9 388.1,128.1 388.2,130.7 388.4,129.4 388.6,128.8 388.8,130.6 388.9,128.6 389.1,128.8 389.3,128.6 389.5,126.7 389.7,130.3 389.8,127.7 390,128.5 390.2,128.3 390.4,130.2 390.5,129.2 390.7,129.3 390.9,127.3 391.1,129.2 391.2,127.6 391.4,129.8 391.6,129.9 391.8,129.4 392,132 392.1,130.1 392.3,130.2 392.5,129.7 392.7,129.3 392.8,130.7 393,130.9 393.2,128 393.4,130.9 393.6,130.3 393.7,130.8 393.9,130.3 394.1,128.2 394.3,128.3 394.4,132 394.6,130.1 394.8,128.1 395,130.2 395.2,129.4 395.3,127.6 395.5,127.1 395.7,127.9 395.9,130.2 396,129.9 396.2,129.7 396.4,130.3 396.6,130.7 396.8,127.5 396.9,129.7 397.1,129.1 397.3,128.6 397.5,129.4 397.6,130 397.8,129.8 398,128.4 398.2,129.6 398.3,132.6 398.5,129 398.7,128.2 398.9,130.6 399.1,131 399.2,130.9 399.4,129 399.6,131.6 399.8,129.4 399.9,129 400.1,129.7 400.3,130.3 400.5,131.3 400.7,131.2 400.8,130.5 401,131.7 401.2,130.7 401.4,131.7 401.5,128.9 401.7,128.8 401.9,131.6 402.1,129 402.3,130.4 402.4,130.6 402.6,130.2 402.8,130.3 403,132.5 403.1,127.8 403.3,131.9 403.5,133.6 403.7,130.9 403.8,130.9 404,131.8 404.2,133.2 404.4,129.6 404.6,131.2 404.7,130.9 404.9,131.8 405.1,131.3 405.3,131.9 405.4,130.7 405.6,131.3 405.8,130.4 406,130.5 406.2,131.1 406.3,131.1 406.5,129.9 406.7,133.2 406.9,131.2 407,129.8 407.2,132.7 407.4,130.6 407.6,132.1 407.8,131.5 407.9,131.8 408.1,131.7 408.3,130.9 408.5,131.6 408.6,134 408.8,129 409,131.8 409.2,132.2 409.4,130.5 409.5,130.2 409.7,134.3 409.9,131.4 410.1,134.2 410.2,132.5 410.4,132 410.6,132.5 410.8,132.7 410.9,133.3 411.1,132.5 411.3,132.2 411.5,132.2 411.7,133.6 411.8,133 412,130.9 412.2,131.4 412.4,132.5 412.5,131.5 412.7,131.8 412.9,131.1 413.1,132 413.3,132.8 413.4,133.5 413.6,132.4 413.8,134.7 414,132.3 414.1,136.1 414.3,133.6 414.5,133.1 414.7,131.9 414.9,129.3 415,132.4 415.2,132.8 415.4,134.8 415.6,131.1 415.7,134.8 415.9,132.4 416.1,133.6 416.3,129.9 416.5,133 416.6,132.4 416.8,133.6 417,133 417.2,131.6 417.3,134 417.5,133.8 417.7,133.7 417.9,134.2 418,134.3 418.2,133.1 418.4,131.6 418.6,131.6 418.8,134.7 418.9,134 419.1,133.3 419.3,132.8 419.5,133.3 419.6,133.3 419.8,133 420,132.6 420.2,135.8 420.4,133.7 420.5,132.8 420.7,132 420.9,132.7 421.1,134.3 421.2,134.4 421.4,133.3 421.6,133.7 421.8,133.3 422,132.4 422.1,135.1 422.3,134.1 422.5,136.5 422.7,133 422.8,133.7 423,134.8 423.2,133.6 423.4,132.4 423.6,132.9 423.7,134.1 423.9,134.4 424.1,133.9 424.3,135.1 424.4,135.2 424.6,134.4 424.8,134.2 425,133.9 425.1,134.8 425.3,135.2 425.5,134.3 425.7,134.8 425.9,133.9 426,132.8 426.2,133.3 426.4,135.2 426.6,134.9 426.7,136.2 426.9,134.5 427.1,135.4 427.3,135.9 427.5,135.6 427.6,133.9 427.8,134.4 428,134.8 428.2,133.6 428.3,135.2 428.5,135.8 428.7,134.2 428.9,136.9 429.1,134.5 429.2,134.6 429.4,134.6 429.6,134.1 429.8,135.3 429.9,134.9 430.1,136.7 430.3,135.6 430.5,135.6 430.7,134.8 430.8,133.6 431,135 431.2,134.2 431.4,136.2 431.5,135.1 431.7,137 431.9,136 432.1,136.1 432.2,135.5 432.4,135.5 432.6,136 432.8,136.3 433,134.6 433.1,135.9 433.3,138.2 433.5,135.4 433.7,135.2 433.8,134.8 434,134 434.2,136.8" stroke="#ff0a0a" stroke-width="1.1" fill="none"/>
<path d="M150.4,118.7 151.5,118.8 152.6,119 153.7,119.2 154.8,119.4 155.9,119.6 157,119.7 158.1,119.8 159.2,119.8 160.3,119.9 161.4,119.9 162.5,119.7 163.5,119.5 164.6,119.2 165.7,118.9 166.8,118.6 167.9,118.1 169,117.6 170.1,117 171.2,116.4 172.3,115.8 173.4,114.9 174.5,114 175.6,113.1 176.7,112.3 177.8,111.3 178.9,110.3 180,109.2 181.1,108.1 182.2,107 183.3,105.9 184.4,104.4 185.5,102.9 186.6,101.4 187.7,99.9 188.8,98.5 189.8,97.1 190.9,95.7 192,94.3 193.1,93 194.2,91.7 195.3,90.6 196.4,89.5 197.5,88.4 198.6,87.3 199.7,86.4 200.8,85.7 201.9,85 203,84.3 204.1,83.9 205.2,83.7 206.3,83.6 207.4,83.6 208.5,83.9 209.6,84.3 210.7,84.6 211.8,85.1 212.9,85.6 214,86 215,86.5 216.1,87 217.2,87.5 218.3,88 219.4,88.6 220.5,89.1 221.6,89.6 222.7,90.2 223.8,90.8 224.9,91.4 226,92 227.1,92.7 228.2,93.4 229.3,94.1 230.4,94.8 231.5,95.6 232.6,96.3 233.7,97.1 234.8,97.8 235.9,98.6 237,99.3 238.1,100.1 239.2,101 240.3,102 241.3,102.9 242.4,103.8 243.5,104.8 244.6,105.8 245.7,106.8 246.8,107.9 247.9,108.9 249,109.9 250.1,110.9 251.2,111.8 252.3,112.8 253.4,113.8 254.5,114.6 255.6,115.4 256.7,116.1 257.8,116.9 258.9,117.6 260,118.2 261.1,118.7 262.2,119.2 263.3,119.7 264.4,120.2 265.5,120.6 266.5,120.9 267.6,121.1 268.7,121.4 269.8,121.7 270.9,121.8 272,121.9 273.1,122.1 274.2,122.2 275.3,122.3 276.4,122.4 277.5,122.5 278.6,122.5 279.7,122.6 280.8,122.7 281.9,122.8 283,122.9 284.1,122.9 285.2,123 286.3,123.1 287.4,123.1 288.5,123.2 289.6,123.2 290.7,123.3 291.8,123.4 292.8,123.5 293.9,123.5 295,123.6 296.1,123.7 297.2,123.8 298.3,123.9 299.4,124 300.5,124.1 301.6,124.2 302.7,124.2 303.8,124.3 304.9,124.4 306,124.5 307.1,124.6 308.2,124.7 309.3,124.8 310.4,124.9 311.5,124.9 312.6,125 313.7,125.1 314.8,125.1 315.9,125.2 317,125.3 318.1,125.3 319.1,125.4 320.2,125.5 321.3,125.6 322.4,125.6 323.5,125.7 324.6,125.8 325.7,125.8 326.8,125.9 327.9,126 329,126 330.1,126.1 331.2,126.2 332.3,126.2 333.4,126.2 334.5,126.1 335.6,126.1 336.7,126.1 337.8,126.1 338.9,126.1 340,126.1 341.1,126.1 342.2,126.1 343.3,126.1 344.3,126.1 345.4,126.1 346.5,126 347.6,126 348.7,126 349.8,126 350.9,126 352,126 353.1,125.9 354.2,125.9 355.3,125.9 356.4,125.9 357.5,125.9 358.6,125.9 359.7,125.9 360.8,126 361.9,126 363,126.1 364.1,126.1 365.2,126.2 366.3,126.2 367.4,126.3 368.5,126.3 369.6,126.4 370.6,126.4 371.7,126.5 372.8,126.6 373.9,126.6 375,126.7 376.1,126.8 377.2,126.9 378.3,127 379.4,127.1 380.5,127.2 381.6,127.3 382.7,127.4 383.8,127.5 384.9,127.6 386,127.7 387.1,127.8 388.2,127.9 389.3,128.1 390.4,128.2 391.5,128.3 392.6,128.5 393.7,128.6 394.8,128.7 395.8,128.9 396.9,129 398,129.1 399.1,129.3 400.2,129.4 401.3,129.6 402.4,129.7 403.5,129.9 404.6,130.1 405.7,130.2 406.8,130.4 407.9,130.5 409,130.7 410.1,130.9 411.2,131 412.3,131.2 413.4,131.3 414.5,131.5 415.6,131.7 416.7,131.9 417.8,132.1 418.9,132.3 420,132.4 421.1,132.6 422.1,132.8 423.2,133 424.3,133.2 425.4,133.3 426.5,133.5 427.6,133.7 428.7,133.9 429.8,134 430.9,134.2 432,134.4 433.1,134.6 434.2,134.7 434.2,136.4 433.1,136.3 432,136.1 430.9,135.9 429.8,135.8 428.7,135.6 427.6,135.4 426.5,135.3 425.4,135.1 424.3,135 423.2,134.8 422.1,134.6 421.1,134.4 420,134.3 418.9,134.1 417.8,133.9 416.7,133.8 415.6,133.6 414.5,133.4 413.4,133.3 412.3,133.1 411.2,133 410.1,132.8 409,132.7 407.9,132.5 406.8,132.4 405.7,132.2 404.6,132.1 403.5,131.9 402.4,131.8 401.3,131.6 400.2,131.5 399.1,131.3 398,131.2 396.9,131.1 395.8,131 394.8,130.8 393.7,130.7 392.6,130.6 391.5,130.5 390.4,130.3 389.3,130.2 388.2,130.1 387.1,130 386,129.8 384.9,129.7 383.8,129.6 382.7,129.6 381.6,129.5 380.5,129.4 379.4,129.3 378.3,129.2 377.2,129.1 376.1,129 375,129 373.9,128.9 372.8,128.8 371.7,128.7 370.6,128.7 369.6,128.6 368.5,128.6 367.4,128.5 366.3,128.5 365.2,128.4 364.1,128.4 363,128.3 361.9,128.3 360.8,128.3 359.7,128.2 358.6,128.2 357.5,128.1 356.4,128.2 355.3,128.2 354.2,128.2 353.1,128.2 352,128.2 350.9,128.2 349.8,128.3 348.7,128.3 347.6,128.3 346.5,128.3 345.4,128.3 344.3,128.3 343.3,128.3 342.2,128.3 341.1,128.4 340,128.4 338.9,128.4 337.8,128.4 336.7,128.4 335.6,128.4 334.5,128.4 333.4,128.4 332.3,128.4 331.2,128.4 330.1,128.4 329,128.3 327.9,128.2 326.8,128.2 325.7,128.1 324.6,128 323.5,128 322.4,127.9 321.3,127.8 320.2,127.8 319.1,127.7 318.1,127.7 317,127.6 315.9,127.5 314.8,127.5 313.7,127.4 312.6,127.3 311.5,127.3 310.4,127.2 309.3,127.1 308.2,127 307.1,127 306,126.9 304.9,126.8 303.8,126.7 302.7,126.6 301.6,126.5 300.5,126.5 299.4,126.4 298.3,126.3 297.2,126.2 296.1,126.1 295,126 293.9,126 292.8,125.9 291.8,125.8 290.7,125.7 289.6,125.7 288.5,125.6 287.4,125.6 286.3,125.5 285.2,125.4 284.1,125.4 283,125.3 281.9,125.3 280.8,125.2 279.7,125.1 278.6,125 277.5,125 276.4,124.9 275.3,124.8 274.2,124.7 273.1,124.6 272,124.5 270.9,124.4 269.8,124.2 268.7,124 267.6,123.7 266.5,123.5 265.5,123.2 264.4,122.8 263.3,122.4 262.2,121.9 261.1,121.5 260,121 258.9,120.4 257.8,119.7 256.7,119 255.6,118.3 254.5,117.6 253.4,116.8 252.3,115.9 251.2,115 250.1,114.1 249,113.2 247.9,112.3 246.8,111.3 245.7,110.3 244.6,109.4 243.5,108.4 242.4,107.5 241.3,106.6 240.3,105.8 239.2,104.9 238.1,104 237,103.3 235.9,102.6 234.8,101.9 233.7,101.2 232.6,100.5 231.5,99.8 230.4,99.1 229.3,98.4 228.2,97.8 227.1,97.1 226,96.5 224.9,95.9 223.8,95.4 222.7,94.8 221.6,94.2 220.5,93.7 219.4,93.2 218.3,92.7 217.2,92.2 216.1,91.8 215,91.3 214,90.9 212.9,90.4 211.8,90 210.7,89.6 209.6,89.2 208.5,88.9 207.4,88.6 206.3,88.6 205.2,88.7 204.1,88.8 203,89.3 201.9,89.9 200.8,90.6 199.7,91.3 198.6,92.1 197.5,93.1 196.4,94.1 195.3,95.1 194.2,96.1 193.1,97.3 192,98.6 190.9,99.9 189.8,101.2 188.8,102.5 187.7,103.9 186.6,105.3 185.5,106.7 184.4,108.1 183.3,109.4 182.2,110.5 181.1,111.5 180,112.6 178.9,113.6 177.8,114.5 176.7,115.4 175.6,116.2 174.5,117.1 173.4,117.9 172.3,118.7 171.2,119.3 170.1,119.8 169,120.4 167.9,120.9 166.8,121.4 165.7,121.7 164.6,121.9 163.5,122.1 162.5,122.4 161.4,122.6 160.3,122.6 159.2,122.5 158.1,122.4 157,122.4 155.9,122.3 154.8,122.1 153.7,121.9 152.6,121.7 151.5,121.5 150.4,121.4Z" fill="#ff0a0a" stroke="none"/>
<path d="M150.4,184.5 150.6,184.9 150.8,187.1 150.9,188.1 151.1,183.2 151.3,186 151.5,185.5 151.6,185.2 151.8,185.3 152,184.6 152.2,187 152.4,185.6 152.5,185.3 152.7,186.6 152.9,186.1 153.1,185.5 153.2,185.4 153.4,187.4 153.6,185.7 153.8,184.9 153.9,183.8 154.1,184.6 154.3,183.6 154.5,185.3 154.7,185.5 154.8,182.3 155,185.3 155.2,186.2 155.4,185.5 155.5,184 155.7,187.1 155.9,184.4 156.1,183.7 156.3,183.9 156.4,185.4 156.6,186.8 156.8,187.1 157,185.8 157.1,183.8 157.3,184.6 157.5,184.2 157.7,185.2 157.9,183 158,185.7 158.2,186.4 158.4,185.3 158.6,186.2 158.7,184.2 158.9,183.5 159.1,184.7 159.3,187.2 159.5,187 159.6,185 159.8,187.3 160,185.2 160.2,187.7 160.3,186.3 160.5,185 160.7,186.8 160.9,184.6 161,184.4 161.2,183.6 161.4,186 161.6,185.5 161.8,185.5 161.9,185 162.1,187.5 162.3,184.9 162.5,184.4 162.6,187.2 162.8,187.4 163,185.8 163.2,182.8 163.4,184.4 163.5,186.1 163.7,185.2 163.9,187.3 164.1,183.2 164.2,186 164.4,184.1 164.6,186.8 164.8,184.8 165,186.3 165.1,183.9 165.3,182.8 165.5,183.2 165.7,183.8 165.8,183.2 166,186.3 166.2,186.5 166.4,184.9 166.6,183 166.7,184.3 166.9,183.4 167.1,186.4 167.3,184.7 167.4,184.9 167.6,183.5 167.8,181.1 168,182.8 168.1,182.2 168.3,184.3 168.5,183.8 168.7,182.4 168.9,182.9 169,185.6 169.2,181.9 169.4,181.8 169.6,182.8 169.7,182 169.9,182.3 170.1,183.6 170.3,185.3 170.5,180 170.6,182.5 170.8,182.5 171,182.2 171.2,182 171.3,181.7 171.5,183.6 171.7,181.3 171.9,181.7 172.1,181.8 172.2,181.9 172.4,181.3 172.6,183 172.8,181.3 172.9,181.5 173.1,181 173.3,179.4 173.5,179.5 173.7,179 173.8,180.8 174,179.3 174.2,178.6 174.4,180.4 174.5,180.7 174.7,177 174.9,182.3 175.1,179.6 175.2,179.2 175.4,180.9 175.6,179.2 175.8,178 176,182.3 176.1,177 176.3,178.4 176.5,179.7 176.7,176.5 176.8,177.9 177,178.6 177.2,181.7 177.4,176.2 177.6,177.5 177.7,178.5 177.9,177.4 178.1,175.1 178.3,177.6 178.4,176.9 178.6,177.3 178.8,178.3 179,177.9 179.2,176.8 179.3,176.4 179.5,173.9 179.7,175.4 179.9,175.8 180,174.6 180.2,175.2 180.4,173.5 180.6,177.3 180.8,178.2 180.9,173.7 181.1,174.9 181.3,173.6 181.5,176 181.6,174.5 181.8,173.7 182,173 182.2,173.4 182.3,171.3 182.5,174 182.7,171.4 182.9,173.4 183.1,172.5 183.2,174 183.4,171.9 183.6,173.5 183.8,169.8 183.9,172.3 184.1,170.6 184.3,171.1 184.5,170.6 184.7,172 184.8,166.3 185,170.4 185.2,166.8 185.4,171.6 185.5,165.4 185.7,167 185.9,165.5 186.1,171.5 186.3,165.7 186.4,168.1 186.6,166.7 186.8,164 187,166.6 187.1,168.3 187.3,166.4 187.5,168.3 187.7,165.6 187.8,166.1 188,165.1 188.2,166.3 188.4,169.1 188.6,165.9 188.7,165.3 188.9,163.5 189.1,163 189.3,167.2 189.4,161.8 189.6,162 189.8,163.4 190,162.5 190.2,167.1 190.3,158.2 190.5,163.5 190.7,164 190.9,160 191,160.8 191.2,162.8 191.4,165 191.6,159.5 191.8,158 191.9,163 192.1,164 192.3,159.9 192.5,155.7 192.6,163.2 192.8,159.5 193,162.1 193.2,159.4 193.4,158.5 193.5,158.1 193.7,162 193.9,161.8 194.1,153.9 194.2,156.3 194.4,162 194.6,157.1 194.8,154.8 194.9,157.6 195.1,157.2 195.3,157 195.5,156 195.7,156.2 195.8,155.7 196,157.3 196.2,154.6 196.4,155.6 196.5,155.7 196.7,158.8 196.9,156.5 197.1,155.3 197.3,156.6 197.4,156.1 197.6,157.5 197.8,156 198,158.7 198.1,157.6 198.3,154.3 198.5,153.2 198.7,156 198.9,155.1 199,153.5 199.2,150.2 199.4,149.3 199.6,154.1 199.7,155 199.9,155 200.1,150 200.3,155.3 200.5,151.6 200.6,153.6 200.8,153.5 201,150.6 201.2,151 201.3,147.4 201.5,150 201.7,147.8 201.9,152.9 202,151.9 202.2,153.8 202.4,152.4 202.6,150 202.8,152.1 202.9,150.3 203.1,152.6 203.3,151.8 203.5,148.6 203.6,150.9 203.8,151 204,150.1 204.2,152.9 204.4,154.8 204.5,149.8 204.7,149.8 204.9,145.3 205.1,150.3 205.2,149.6 205.4,145.5 205.6,151.2 205.8,151.9 206,148.8 206.1,149.6 206.3,148.2 206.5,152.3 206.7,146.9 206.8,149.7 207,155.1 207.2,150.6 207.4,151.6 207.6,150.2 207.7,147.8 207.9,150.6 208.1,151.7 208.3,148.3 208.4,151.6 208.6,153.8 208.8,153.4 209,147.2 209.1,148.7 209.3,147.3 209.5,153.6 209.7,152.6 209.9,152.9 210,149.2 210.2,148.6 210.4,151.6 210.6,151.7 210.7,149.5 210.9,151.9 211.1,153.2 211.3,152.3 211.5,149.4 211.6,146.9 211.8,151.3 212,152.4 212.2,151.5 212.3,151.2 212.5,150.6 212.7,154 212.9,152.3 213.1,152.8 213.2,150.3 213.4,151.2 213.6,153.1 213.8,150.4 213.9,149.9 214.1,152.2 214.3,155.8 214.5,153.5 214.6,156.5 214.8,152.9 215,152.6 215.2,150.2 215.4,152.1 215.5,156.8 215.7,154.3 215.9,155.3 216.1,155.3 216.2,153.8 216.4,153.4 216.6,154.3 216.8,155.6 217,155.2 217.1,155.3 217.3,154.7 217.5,152.6 217.7,153.9 217.8,152.4 218,156.9 218.2,150 218.4,154.3 218.6,160.3 218.7,154.2 218.9,152.5 219.1,155.1 219.3,158.1 219.4,154.9 219.6,156.7 219.8,155.7 220,154.7 220.2,162.6 220.3,155.9 220.5,154.6 220.7,154.8 220.9,156.8 221,156.9 221.2,157.8 221.4,156.5 221.6,153.1 221.7,157.6 221.9,155.8 222.1,155.9 222.3,153.4 222.5,155.5 222.6,155.3 222.8,156.9 223,153.9 223.2,157.3 223.3,157.5 223.5,154.9 223.7,156.1 223.9,155.7 224.1,159.6 224.2,152.2 224.4,157.1 224.6,154.3 224.8,157.1 224.9,159.9 225.1,156.8 225.3,158.6 225.5,156.6 225.7,162.7 225.8,160.5 226,161.1 226.2,155.9 226.4,156.5 226.5,161.3 226.7,158.6 226.9,158.6 227.1,160 227.3,156.7 227.4,161.1 227.6,159.6 227.8,160.7 228,158.4 228.1,161 228.3,158.6 228.5,162.2 228.7,162.6 228.8,162.3 229,161.6 229.2,161.9 229.4,155.1 229.6,162.6 229.7,160.4 229.9,161.3 230.1,160.6 230.3,158.4 230.4,160.3 230.6,162.9 230.8,164.6 231,160.5 231.2,160 231.3,165 231.5,160.3 231.7,166.5 231.9,162.4 232,160.6 232.2,164.6 232.4,166.1 232.6,159.9 232.8,166.1 232.9,162.5 233.1,166.1 233.3,162.5 233.5,160.2 233.6,164.5 233.8,165.5 234,167.9 234.2,167.3 234.4,165.4 234.5,163.6 234.7,163.2 234.9,163.7 235.1,162.8 235.2,164 235.4,159.6 235.6,165.1 235.8,164.9 235.9,170.1 236.1,166.6 236.3,164.3 236.5,166.5 236.7,163.1 236.8,164.4 237,162.1 237.2,168.7 237.4,167.1 237.5,163.8 237.7,166.1 237.9,168.2 238.1,167.4 238.3,167.4 238.4,165.1 238.6,165.7 238.8,167.2 239,169 239.1,165.8 239.3,165.4 239.5,169.8 239.7,166 239.9,170 240,168.5 240.2,169.9 240.4,171.6 240.6,169.8 240.7,170.1 240.9,167.1 241.1,167.7 241.3,170.3 241.5,172.1 241.6,172 241.8,173.8 242,170.3 242.2,170.2 242.3,171.8 242.5,170.2 242.7,170.2 242.9,168.5 243,172.4 243.2,168.8 243.4,171.8 243.6,168.5 243.8,173.2 243.9,169.5 244.1,173 244.3,168.9 244.5,171.1 244.6,174.1 244.8,170.7 245,172.4 245.2,171.6 245.4,168.6 245.5,173.4 245.7,173.7 245.9,171.2 246.1,174.3 246.2,172.1 246.4,171.9 246.6,173.8 246.8,172.8 247,178 247.1,171.6 247.3,175.7 247.5,176.3 247.7,171.4 247.8,172 248,176 248.2,174.4 248.4,176 248.5,177.4 248.7,175.1 248.9,174.1 249.1,171.5 249.3,176.5 249.4,174.8 249.6,177 249.8,177 250,174.5 250.1,179.7 250.3,178.8 250.5,178.6 250.7,175.4 250.9,176.9 251,176.8 251.2,177.1 251.4,176.2 251.6,178.8 251.7,178.6 251.9,179 252.1,177.8 252.3,180.8 252.5,179.2 252.6,174.7 252.8,178.2 253,179.2 253.2,181 253.3,179.2 253.5,179.4 253.7,178.9 253.9,181.1 254.1,179.5 254.2,179.4 254.4,179.3 254.6,181.4 254.8,179.9 254.9,178.3 255.1,181.9 255.3,180 255.5,181.7 255.6,181.8 255.8,183.2 256,183.1 256.2,180.8 256.4,181.5 256.5,179.9 256.7,184.5 256.9,182.8 257.1,184.3 257.2,181.9 257.4,179.4 257.6,184.8 257.8,182.8 258,183 258.1,183 258.3,184 258.5,183.9 258.7,180.9 258.8,185 259,182.7 259.2,182.9 259.4,186.2 259.6,185.1 259.7,183.4 259.9,181.3 260.1,184.3 260.3,184.9 260.4,184.1 260.6,182.5 260.8,183.2 261,182.6 261.2,184.8 261.3,185.8 261.5,186.1 261.7,183.7 261.9,185.2 262,185.7 262.2,184.3 262.4,184.9 262.6,188.1 262.7,185.5 262.9,186.5 263.1,184.8 263.3,185.5 263.5,183.1 263.6,185.6 263.8,187.3 264,188.7 264.2,187.5 264.3,186.9 264.5,186.1 264.7,185.2 264.9,185.9 265.1,187 265.2,185.2 265.4,187.6 265.6,185 265.8,183.9 265.9,185 266.1,184.2 266.3,184.6 266.5,188.1 266.7,186.3 266.8,186.9 267,188.3 267.2,188.4 267.4,186.1 267.5,188.6 267.7,187.4 267.9,186.9 268.1,187.5 268.3,185 268.4,186 268.6,186.9 268.8,187.9 269,186.6 269.1,187 269.3,188.5 269.5,189.2 269.7,188.3 269.8,189.1 270,186.8 270.2,187 270.4,187.9 270.6,187 270.7,186.8 270.9,189.7 271.1,187.2 271.3,186.2 271.4,188.2 271.6,190 271.8,187.7 272,189.3 272.2,187 272.3,187 272.5,186.7 272.7,187.5 272.9,190.1 273,186.2 273.2,189.9 273.4,186.4 273.6,187.4 273.8,188.9 273.9,188.6 274.1,188.2 274.3,185.6 274.5,188.3 274.6,186.5 274.8,191.3 275,187.6 275.2,188.2 275.4,186.4 275.5,187.3 275.7,186.2 275.9,189.3 276.1,187.7 276.2,188.8 276.4,187.1 276.6,187.4 276.8,189.8 276.9,186.8 277.1,185.7 277.3,188.6 277.5,186.6 277.7,187.5 277.8,189.3 278,187.1 278.2,189.3 278.4,187.3 278.5,190.2 278.7,190 278.9,187.6 279.1,187.9 279.3,187.1 279.4,188.5 279.6,189.8 279.8,186.4 280,189.5 280.1,186.5 280.3,187.2 280.5,186 280.7,191.1 280.9,188.4 281,188.7 281.2,187.5 281.4,189.8 281.6,185.6 281.7,188.4 281.9,191.3 282.1,187.9 282.3,188.5 282.4,189.3 282.6,187.4 282.8,188.5 283,189.8 283.2,188.8 283.3,189 283.5,188.1 283.7,189 283.9,188.6 284,190.5 284.2,189.5 284.4,188.3 284.6,185.4 284.8,189.5 284.9,189.6 285.1,187.4 285.3,186 285.5,187.1 285.6,189.9 285.8,187.3 286,188.1 286.2,189 286.4,190.3 286.5,188.7 286.7,188.6 286.9,188 287.1,190.9 287.2,190.1 287.4,188.6 287.6,186.9 287.8,187.7 288,189.5 288.1,187.8 288.3,190 288.5,189.3 288.7,189.2 288.8,189.7 289,189.5 289.2,187.7 289.4,188.4 289.5,191.9 289.7,187.3 289.9,188.3 290.1,190.3 290.3,188.7 290.4,187.9 290.6,187.2 290.8,189.6 291,190.3 291.1,190.8 291.3,189 291.5,190.3 291.7,187.6 291.9,189.2 292,188.1 292.2,189.2 292.4,190 292.6,190.4 292.7,187.8 292.9,190.7 293.1,188.5 293.3,187.8 293.5,188.9 293.6,187.2 293.8,189.1 294,189.5 294.2,188.9 294.3,189.9 294.5,188.8 294.7,189.2 294.9,187.4 295.1,189.3 295.2,188.1 295.4,188.7 295.6,189.2 295.8,189.5 295.9,187.2 296.1,187.3 296.3,188.9 296.5,190 296.6,189.8 296.8,190.5 297,191.1 297.2,190 297.4,189.4 297.5,188.1 297.7,188.2 297.9,188.9 298.1,189.8 298.2,189.8 298.4,189.5 298.6,189.3 298.8,190.3 299,189.8 299.1,189.9 299.3,190 299.5,188.9 299.7,188.3 299.8,190.2 300,190.2 300.2,189.4 300.4,189.1 300.6,192.6 300.7,188.7 300.9,189.4 301.1,190 301.3,188.2 301.4,189.9 301.6,192.1 301.8,191 302,190.6 302.2,190.5 302.3,189.9 302.5,191 302.7,189.6 302.9,189.3 303,190 303.2,191 303.4,190.3 303.6,190.8 303.7,187.3 303.9,191.5 304.1,192.9 304.3,191.7 304.5,189.6 304.6,188.9 304.8,190.4 305,188.8 305.2,190.9 305.3,189.4 305.5,191.3 305.7,191.8 305.9,187.5 306.1,190.5 306.2,189.2 306.4,188.3 306.6,189.3 306.8,189.9 306.9,191.5 307.1,188.2 307.3,191.5 307.5,192.8 307.7,191 307.8,190.9 308,190.2 308.2,188.8 308.4,191 308.5,190.8 308.7,191.2 308.9,193.6 309.1,191.2 309.2,190.9 309.4,192.3 309.6,188.7 309.8,188.9 310,189.9 310.1,189.6 310.3,191.3 310.5,190 310.7,192.6 310.8,192.4 311,191.4 311.2,190 311.4,191.3 311.6,191.5 311.7,189.2 311.9,191 312.1,191.4 312.3,190.8 312.4,192.5 312.6,192.1 312.8,189.5 313,190.7 313.2,189.5 313.3,191.3 313.5,189.5 313.7,191.8 313.9,191.1 314,191.9 314.2,190.5 314.4,188.8 314.6,192.9 314.8,190.5 314.9,192.4 315.1,191.3 315.3,191.6 315.5,193 315.6,191.2 315.8,192.5 316,188.9 316.2,191.9 316.3,190.5 316.5,190.6 316.7,190.8 316.9,191.3 317.1,192.9 317.2,188.5 317.4,190.9 317.6,190 317.8,192.3 317.9,190.4 318.1,191.5 318.3,190.4 318.5,191.8 318.7,192.2 318.8,190.5 319,191 319.2,189.2 319.4,191.4 319.5,192.1 319.7,190.3 319.9,192.4 320.1,188.4 320.3,188.7 320.4,189.3 320.6,190.5 320.8,191.1 321,191 321.1,191 321.3,192 321.5,190.5 321.7,189.6 321.9,189.6 322,193.8 322.2,188.2 322.4,190.9 322.6,193 322.7,191.8 322.9,190.2 323.1,191.2 323.3,192.3 323.4,192.7 323.6,190.1 323.8,192.2 324,191.6 324.2,192.6 324.3,193 324.5,190.9 324.7,189.5 324.9,191.8 325,193.5 325.2,192.2 325.4,191.6 325.6,194.3 325.8,190.1 325.9,192.5 326.1,190.7 326.3,191.5 326.5,191.5 326.6,193.3 326.8,190.3 327,190.8 327.2,189.5 327.4,192.1 327.5,190.9 327.7,192 327.9,190.2 328.1,191.1 328.2,192.8 328.4,191.3 328.6,192.3 328.8,192.2 329,191.1 329.1,189.7 329.3,192.8 329.5,191.8 329.7,192.8 329.8,189.2 330,189.6 330.2,189 330.4,190.6 330.5,192.9 330.7,192.4 330.9,191.6 331.1,191.8 331.3,192.6 331.4,191.3 331.6,192.2 331.8,191.9 332,189 332.1,191.2 332.3,193.4 332.5,191.2 332.7,191.5 332.9,190.9 333,191.1 333.2,193.1 333.4,191.4 333.6,190.4 333.7,187.9 333.9,191 334.1,189.3 334.3,189.4 334.5,192.7 334.6,192.5 334.8,189.3 335,192.7 335.2,192.2 335.3,190.7 335.5,192.6 335.7,189.7 335.9,190.2 336.1,189.9 336.2,190.3 336.4,192.7 336.6,190 336.8,190.2 336.9,190.5 337.1,191.9 337.3,191.2 337.5,192.7 337.6,190.8 337.8,190.1 338,191 338.2,191.7 338.4,190.5 338.5,192 338.7,193.9 338.9,190.9 339.1,191.7 339.2,193.3 339.4,190.8 339.6,190.6 339.8,190.3 340,192.1 340.1,192.3 340.3,191.4 340.5,191.7 340.7,193.2 340.8,192.7 341,189.9 341.2,191.6 341.4,191.7 341.6,192.5 341.7,191.3 341.9,190.8 342.1,191 342.3,189.4 342.4,191.6 342.6,190.8 342.8,192.2 343,190.3 343.1,191 343.3,190.4 343.5,190.3 343.7,192.4 343.9,191 344,192.1 344.2,190.2 344.4,191.7 344.6,189.5 344.7,191 344.9,190.9 345.1,192.3 345.3,191.8 345.5,191.3 345.6,192.6 345.8,191.8 346,192.2 346.2,192.5 346.3,191.4 346.5,191.2 346.7,191.9 346.9,191 347.1,192 347.2,192.9 347.4,192.6 347.6,191 347.8,189.9 347.9,191.4 348.1,191.3 348.3,192.9 348.5,191 348.7,191.2 348.8,192.4 349,190.9 349.2,191.3 349.4,193.6 349.5,193.3 349.7,192.2 349.9,191.8 350.1,190.3 350.2,192.1 350.4,191.5 350.6,191.7 350.8,190.8 351,191.4 351.1,191.2 351.3,191.8 351.5,193.2 351.7,191.9 351.8,189.4 352,190.2 352.2,189.5 352.4,190.5 352.6,192.1 352.7,191.9 352.9,190.7 353.1,191.7 353.3,190.5 353.4,189.7 353.6,189.7 353.8,190.3 354,193.2 354.2,189.7 354.3,192.9 354.5,193 354.7,191.2 354.9,191.3 355,190.6 355.2,191.4 355.4,192.2 355.6,191.4 355.8,192.6 355.9,192.8 356.1,191.8 356.3,191.8 356.5,191.3 356.6,191.8 356.8,190 357,191.9 357.2,191.6 357.3,190.3 357.5,194 357.7,190.1 357.9,190.3 358.1,191.7 358.2,189 358.4,190.4 358.6,189.5 358.8,190.2 358.9,191.2 359.1,191.8 359.3,192.8 359.5,192.4 359.7,192.9 359.8,192.1 360,190.8 360.2,192.8 360.4,190.8 360.5,190.7 360.7,193.3 360.9,192.4 361.1,191.7 361.3,192.4 361.4,192.6 361.6,189.8 361.8,191.4 362,190.1 362.1,191.7 362.3,190.7 362.5,193.2 362.7,192.2 362.9,190.5 363,191.5 363.2,190.1 363.4,191.6 363.6,192.2 363.7,191.9 363.9,189.2 364.1,191.2 364.3,192.2 364.4,192 364.6,193 364.8,190 365,192.3 365.2,190.8 365.3,191.9 365.5,192.1 365.7,192.5 365.9,191 366,191.9 366.2,190.3 366.4,190 366.6,192.4 366.8,191.6 366.9,189.7 367.1,190.7 367.3,191.8 367.5,193.6 367.6,193 367.8,192.7 368,189.6 368.2,191.6 368.4,192.4 368.5,192.3 368.7,192.3 368.9,191.5 369.1,194 369.2,193.6 369.4,191.7 369.6,190.6 369.8,194.3 370,191.2 370.1,193.3 370.3,194.2 370.5,190.7 370.7,192.2 370.8,191.5 371,192.5 371.2,192.3 371.4,194.3 371.5,192.6 371.7,191.9 371.9,193.3 372.1,191.6 372.3,191.5 372.4,194.7 372.6,191 372.8,191.4 373,192.1 373.1,190.7 373.3,189.5 373.5,193.3 373.7,191.1 373.9,191.4 374,191.6 374.2,190.9 374.4,190.8 374.6,192.3 374.7,195.1 374.9,193.1 375.1,193.1 375.3,190.4 375.5,192.2 375.6,190.8 375.8,193.2 376,192 376.2,192.3 376.3,192.2 376.5,191.6 376.7,190.5 376.9,193 377,190.7 377.2,190.9 377.4,192 377.6,191.5 377.8,192.7 377.9,193.6 378.1,192.7 378.3,192.7 378.5,192.5 378.6,193.5 378.8,190.3 379,192.9 379.2,191.4 379.4,191 379.5,192.5 379.7,192.1 379.9,193.3 380.1,193.9 380.2,189.8 380.4,192.5 380.6,195 380.8,193.7 381,194.4 381.1,192.8 381.3,191 381.5,191.4 381.7,193.6 381.8,193.9 382,191.9 382.2,192.4 382.4,193.1 382.6,190.7 382.7,192.4 382.9,194.8 383.1,195.4 383.3,192.7 383.4,195 383.6,192.2 383.8,191.9 384,190.2 384.1,194.1 384.3,192.5 384.5,195.7 384.7,193.4 384.9,193.2 385,190.8 385.2,194.8 385.4,192.6 385.6,192.9 385.7,190.4 385.9,194.2 386.1,194.3 386.3,192.4 386.5,193.3 386.6,193.6 386.8,194.3 387,193.3 387.2,195.3 387.3,193 387.5,192.6 387.7,192.7 387.9,190.3 388.1,192.4 388.2,194.5 388.4,193.7 388.6,192.4 388.8,193.8 388.9,191.1 389.1,193.1 389.3,194.1 389.5,194.3 389.7,192.6 389.8,194.6 390,195.8 390.2,193.1 390.4,194.5 390.5,191.8 390.7,191.3 390.9,194.4 391.1,193.7 391.2,193.9 391.4,193.1 391.6,193.4 391.8,194.7 392,195.8 392.1,193.6 392.3,191.9 392.5,195.3 392.7,194.6 392.8,194.7 393,194.1 393.2,196.6 393.4,194.1 393.6,194.6 393.7,191.9 393.9,193.4 394.1,193.2 394.3,194 394.4,194.5 394.6,193.2 394.8,196.1 395,192.9 395.2,193.7 395.3,194.5 395.5,192.8 395.7,194.9 395.9,195 396,193.9 396.2,196.5 396.4,194.4 396.6,194.7 396.8,193.3 396.9,192.5 397.1,193.7 397.3,194.1 397.5,193.9 397.6,195.3 397.8,191.7 398,193.2 398.2,192.4 398.3,196.1 398.5,193.9 398.7,194 398.9,193.3 399.1,195.7 399.2,194.2 399.4,194.9 399.6,192.4 399.8,196.1 399.9,195.2 400.1,195.4 400.3,196.2 400.5,194.6 400.7,194.6 400.8,195.7 401,195.4 401.2,194.6 401.4,195 401.5,194.4 401.7,195.8 401.9,196.1 402.1,195 402.3,197.2 402.4,193.3 402.6,194.8 402.8,197.1 403,194.7 403.1,193.4 403.3,196.8 403.5,195.9 403.7,193.9 403.8,196.2 404,194.2 404.2,193.8 404.4,195.2 404.6,194.9 404.7,194.2 404.9,195 405.1,194.3 405.3,195.6 405.4,195.5 405.6,196.4 405.8,195.1 406,194.1 406.2,194.1 406.3,195.4 406.5,197.4 406.7,196.6 406.9,195 407,196.8 407.2,194.5 407.4,196.9 407.6,195.4 407.8,196.7 407.9,196.6 408.1,195.6 408.3,196.3 408.5,194.8 408.6,195.9 408.8,197.2 409,200.6 409.2,196.8 409.4,196.2 409.5,195 409.7,197.3 409.9,194.3 410.1,195.3 410.2,196.6 410.4,194.9 410.6,198 410.8,197.5 410.9,195.7 411.1,195.7 411.3,194.9 411.5,194.8 411.7,196.9 411.8,197.1 412,196.8 412.2,196.8 412.4,195.9 412.5,196.9 412.7,194.9 412.9,196.6 413.1,198.2 413.3,198.1 413.4,196.2 413.6,196.3 413.8,198.2 414,198.7 414.1,195.2 414.3,196.3 414.5,197.1 414.7,198.2 414.9,196 415,197.6 415.2,196.6 415.4,199.6 415.6,197.5 415.7,196.9 415.9,196.7 416.1,198.2 416.3,197.9 416.5,196 416.6,197.4 416.8,195.8 417,196.4 417.2,195.9 417.3,195.9 417.5,196.6 417.7,196.3 417.9,197.9 418,198.3 418.2,197.2 418.4,196.3 418.6,198.3 418.8,195.4 418.9,195.5 419.1,198.4 419.3,198.3 419.5,198.7 419.6,197.4 419.8,196.3 420,197.2 420.2,198.3 420.4,197 420.5,197.1 420.7,196.3 420.9,196.6 421.1,198.8 421.2,198.4 421.4,196.7 421.6,196.8 421.8,197.4 422,198.6 422.1,196.8 422.3,197.9 422.5,195.9 422.7,196.8 422.8,198.6 423,199.1 423.2,197 423.4,197.4 423.6,199.1 423.7,197.9 423.9,197.8 424.1,198.9 424.3,198.6 424.4,199.6 424.6,199.3 424.8,197.9 425,198.4 425.1,198.5 425.3,197.1 425.5,197.6 425.7,199.6 425.9,197 426,199.7 426.2,199 426.4,198.6 426.6,199.3 426.7,199.3 426.9,200.1 427.1,198.4 427.3,198.6 427.5,198.6 427.6,200.9 427.8,199.9 428,198 428.2,198.7 428.3,198.3 428.5,199.1 428.7,199.3 428.9,201.5 429.1,197.3 429.2,200.2 429.4,199.6 429.6,198.5 429.8,199.1 429.9,198.8 430.1,199.4 430.3,200.4 430.5,197.8 430.7,200.7 430.8,199 431,201 431.2,199.9 431.4,200.8 431.5,200.1 431.7,200.7 431.9,199.6 432.1,198.8 432.2,200.3 432.4,200.4 432.6,201.8 432.8,197.7 433,199.6 433.1,200.9 433.3,198.6 433.5,199.6 433.7,202 433.8,201.3 434,199 434.2,201.3" stroke="#0a0a0a" stroke-width="1.1" fill="none"/>
<path d="M150.4,183.1 151.5,183.2 152.6,183.4 153.7,183.6 154.8,183.8 155.9,184 157,184.1 158.1,184.2 159.2,184.2 160.3,184.3 161.4,184.3 162.5,184.1 163.5,183.9 164.6,183.6 165.7,183.3 166.8,183 167.9,182.5 169,182 170.1,181.4 171.2,180.8 172.3,180.2 173.4,179.3 174.5,178.4 175.6,177.5 176.7,176.7 177.8,175.7 178.9,174.7 180,173.6 181.1,172.5 182.2,171.4 183.3,170.3 184.4,168.8 185.5,167.3 186.6,165.8 187.7,164.3 188.8,162.9 189.8,161.5 190.9,160.1 192,158.7 193.1,157.4 194.2,156.1 195.3,155 196.4,153.9 197.5,152.8 198.6,151.7 199.7,150.8 200.8,150.1 201.9,149.4 203,148.7 204.1,148.3 205.2,148.1 206.3,148 207.4,148 208.5,148.3 209.6,148.7 210.7,149 211.8,149.5 212.9,150 214,150.4 215,150.9 216.1,151.4 217.2,151.9 218.3,152.4 219.4,153 220.5,153.5 221.6,154 222.7,154.6 223.8,155.2 224.9,155.8 226,156.4 227.1,157.1 228.2,157.8 229.3,158.5 230.4,159.2 231.5,160 232.6,160.7 233.7,161.5 234.8,162.2 235.9,163 237,163.7 238.1,164.5 239.2,165.4 240.3,166.4 241.3,167.3 242.4,168.2 243.5,169.2 244.6,170.2 245.7,171.2 246.8,172.3 247.9,173.3 249,174.3 250.1,175.3 251.2,176.2 252.3,177.2 253.4,178.2 254.5,179 255.6,179.8 256.7,180.5 257.8,181.3 258.9,182 260,182.6 261.1,183.1 262.2,183.6 263.3,184.1 264.4,184.6 265.5,185 266.5,185.3 267.6,185.5 268.7,185.8 269.8,186.1 270.9,186.2 272,186.3 273.1,186.5 274.2,186.6 275.3,186.7 276.4,186.8 277.5,186.9 278.6,186.9 279.7,187 280.8,187.1 281.9,187.2 283,187.3 284.1,187.3 285.2,187.4 286.3,187.5 287.4,187.5 288.5,187.6 289.6,187.6 290.7,187.7 291.8,187.8 292.8,187.9 293.9,187.9 295,188 296.1,188.1 297.2,188.2 298.3,188.3 299.4,188.4 300.5,188.5 301.6,188.6 302.7,188.6 303.8,188.7 304.9,188.8 306,188.9 307.1,189 308.2,189.1 309.3,189.2 310.4,189.3 311.5,189.3 312.6,189.4 313.7,189.5 314.8,189.5 315.9,189.6 317,189.7 318.1,189.7 319.1,189.8 320.2,189.9 321.3,190 322.4,190 323.5,190.1 324.6,190.2 325.7,190.2 326.8,190.3 327.9,190.4 329,190.4 330.1,190.5 331.2,190.6 332.3,190.6 333.4,190.6 334.5,190.5 335.6,190.5 336.7,190.5 337.8,190.5 338.9,190.5 340,190.5 341.1,190.5 342.2,190.5 343.3,190.5 344.3,190.5 345.4,190.5 346.5,190.4 347.6,190.4 348.7,190.4 349.8,190.4 350.9,190.4 352,190.4 353.1,190.3 354.2,190.3 355.3,190.3 356.4,190.3 357.5,190.3 358.6,190.3 359.7,190.3 360.8,190.4 361.9,190.4 363,190.5 364.1,190.5 365.2,190.6 366.3,190.6 367.4,190.7 368.5,190.7 369.6,190.8 370.6,190.8 371.7,190.9 372.8,191 373.9,191 375,191.1 376.1,191.2 377.2,191.3 378.3,191.4 379.4,191.5 380.5,191.6 381.6,191.7 382.7,191.8 383.8,191.9 384.9,192 386,192.1 387.1,192.2 388.2,192.3 389.3,192.5 390.4,192.6 391.5,192.7 392.6,192.9 393.7,193 394.8,193.1 395.8,193.3 396.9,193.4 398,193.5 399.1,193.7 400.2,193.8 401.3,194 402.4,194.1 403.5,194.3 404.6,194.5 405.7,194.6 406.8,194.8 407.9,194.9 409,195.1 410.1,195.3 411.2,195.4 412.3,195.6 413.4,195.7 414.5,195.9 415.6,196.1 416.7,196.3 417.8,196.5 418.9,196.7 420,196.8 421.1,197 422.1,197.2 423.2,197.4 424.3,197.6 425.4,197.7 426.5,197.9 427.6,198.1 428.7,198.3 429.8,198.4 430.9,198.6 432,198.8 433.1,199 434.2,199.1 434.2,200.8 433.1,200.7 432,200.5 430.9,200.3 429.8,200.2 428.7,200 427.6,199.8 426.5,199.7 425.4,199.5 424.3,199.4 423.2,199.2 422.1,199 421.1,198.8 420,198.7 418.9,198.5 417.8,198.3 416.7,198.2 415.6,198 414.5,197.8 413.4,197.7 412.3,197.5 411.2,197.4 410.1,197.2 409,197.1 407.9,196.9 406.8,196.8 405.7,196.6 404.6,196.5 403.5,196.3 402.4,196.2 401.3,196 400.2,195.9 399.1,195.7 398,195.6 396.9,195.5 395.8,195.4 394.8,195.2 393.7,195.1 392.6,195 391.5,194.9 390.4,194.7 389.3,194.6 388.2,194.5 387.1,194.4 386,194.2 384.9,194.1 383.8,194 382.7,194 381.6,193.9 380.5,193.8 379.4,193.7 378.3,193.6 377.2,193.5 376.1,193.4 375,193.4 373.9,193.3 372.8,193.2 371.7,193.1 370.6,193.1 369.6,193 368.5,193 367.4,192.9 366.3,192.9 365.2,192.8 364.1,192.8 363,192.7 361.9,192.7 360.8,192.7 359.7,192.6 358.6,192.6 357.5,192.5 356.4,192.6 355.3,192.6 354.2,192.6 353.1,192.6 352,192.6 350.9,192.6 349.8,192.7 348.7,192.7 347.6,192.7 346.5,192.7 345.4,192.7 344.3,192.7 343.3,192.7 342.2,192.7 341.1,192.8 340,192.8 338.9,192.8 337.8,192.8 336.7,192.8 335.6,192.8 334.5,192.8 333.4,192.8 332.3,192.8 331.2,192.8 330.1,192.8 329,192.7 327.9,192.6 326.8,192.6 325.7,192.5 324.6,192.4 323.5,192.4 322.4,192.3 321.3,192.2 320.2,192.2 319.1,192.1 318.1,192.1 317,192 315.9,191.9 314.8,191.9 313.7,191.8 312.6,191.7 311.5,191.7 310.4,191.6 309.3,191.5 308.2,191.4 307.1,191.4 306,191.3 304.9,191.2 303.8,191.1 302.7,191 301.6,190.9 300.5,190.9 299.4,190.8 298.3,190.7 297.2,190.6 296.1,190.5 295,190.4 293.9,190.4 292.8,190.3 291.8,190.2 290.7,190.1 289.6,190.1 288.5,190 287.4,190 286.3,189.9 285.2,189.8 284.1,189.8 283,189.7 281.9,189.7 280.8,189.6 279.7,189.5 278.6,189.4 277.5,189.4 276.4,189.3 275.3,189.2 274.2,189.1 273.1,189 272,188.9 270.9,188.8 269.8,188.6 268.7,188.4 267.6,188.1 266.5,187.9 265.5,187.6 264.4,187.2 263.3,186.8 262.2,186.3 261.1,185.9 260,185.4 258.9,184.8 257.8,184.1 256.7,183.4 255.6,182.7 254.5,182 253.4,181.2 252.3,180.3 251.2,179.4 250.1,178.5 249,177.6 247.9,176.7 246.8,175.7 245.7,174.7 244.6,173.8 243.5,172.8 242.4,171.9 241.3,171 240.3,170.2 239.2,169.3 238.1,168.4 237,167.7 235.9,167 234.8,166.3 233.7,165.6 232.6,164.9 231.5,164.2 230.4,163.5 229.3,162.8 228.2,162.2 227.1,161.5 226,160.9 224.9,160.3 223.8,159.8 222.7,159.2 221.6,158.6 220.5,158.1 219.4,157.6 218.3,157.1 217.2,156.6 216.1,156.2 215,155.7 214,155.3 212.9,154.8 211.8,154.4 210.7,154 209.6,153.6 208.5,153.3 207.4,153 206.3,153 205.2,153.1 204.1,153.2 203,153.7 201.9,154.3 200.8,155 199.7,155.7 198.6,156.5 197.5,157.5 196.4,158.5 195.3,159.5 194.2,160.5 193.1,161.7 192,163 190.9,164.3 189.8,165.6 188.8,166.9 187.7,168.3 186.6,169.7 185.5,171.1 184.4,172.5 183.3,173.8 182.2,174.9 181.1,175.9 180,177 178.9,178 177.8,178.9 176.7,179.8 175.6,180.6 174.5,181.5 173.4,182.3 172.3,183.1 171.2,183.7 170.1,184.2 169,184.8 167.9,185.3 166.8,185.8 165.7,186.1 164.6,186.3 163.5,186.5 162.5,186.8 161.4,187 160.3,187 159.2,186.9 158.1,186.8 157,186.8 155.9,186.7 154.8,186.5 153.7,186.3 152.6,186.1 151.5,185.9 150.4,185.8Z" fill="#0a0a0a" stroke="none"/>
</g>
<rect x="150.0" y="6.4" width="284.5" height="209.2" fill="none" stroke="#222" stroke-width="1.1"/>
<path d="M170.3,215.6v-2.4M170.3,6.4v2.4M190.6,215.6v-3.6M190.6,6.4v3.6M211,215.6v-2.4M211,6.4v2.4M231.3,215.6v-3.6M231.3,6.4v3.6M251.6,215.6v-2.4M251.6,6.4v2.4M271.9,215.6v-3.6M271.9,6.4v3.6M292.2,215.6v-2.4M292.2,6.4v2.4M312.6,215.6v-3.6M312.6,6.4v3.6M332.9,215.6v-2.4M332.9,6.4v2.4M353.2,215.6v-3.6M353.2,6.4v3.6M373.5,215.6v-2.4M373.5,6.4v2.4M393.9,215.6v-3.6M393.9,6.4v3.6M414.2,215.6v-2.4M414.2,6.4v2.4" stroke="#222" stroke-width="1" fill="none"/>
<g font-family="'Liberation Serif', serif" fill="#1a1a1a" stroke="#1a1a1a" stroke-width="0.25">
<g font-size="14.2px" text-anchor="middle">
<text x="150.3" y="232.8">10</text>
<text x="190.9" y="232.8">20</text>
<text x="231.6" y="232.8">30</text>
<text x="272.2" y="232.8">40</text>
<text x="312.9" y="232.8">50</text>
<text x="353.5" y="232.8">60</text>
<text x="394.2" y="232.8">70</text>
<text x="434.8" y="232.8">80</text>
<text x="291.5" y="261">2θ</text>
</g>
<text transform="translate(135.6,121.4) rotate(-90) scale(1.128,1)" font-size="14.6px" text-anchor="middle">Intensity (a.u.)</text>
<g font-size="15px" text-anchor="end">
<text transform="translate(430.8,51) scale(0.935,1)">Undoped + before UV/O<tspan font-size="9.4px" dy="4.6">3</tspan></text>
<text transform="translate(430.8,118) scale(0.935,1)">Undoped + after UV/O<tspan font-size="9.4px" dy="4.6">3</tspan></text>
<text transform="translate(430.8,182.2) scale(0.935,1)">2 wt% Sn + after UV/O<tspan font-size="9.4px" dy="4.6">3</tspan></text>
</g>
<g font-size="15px" text-anchor="middle">
<text x="284.3" y="283.3">(<tspan font-weight="bold">a</tspan>)</text>
<text x="123.2" y="496.5">(<tspan font-weight="bold">b</tspan>)</text>
<text x="436.8" y="496.7">(<tspan font-weight="bold">c</tspan>)</text>
</g>
</g>
<clipPath id="clip1"><polygon points="22.5,323 137,294 226,370 97,425"/></clipPath>
<linearGradient id="lw1_0" x1="0" y1="0" x2="0" y2="1"><stop offset="0" stop-color="#8a5a10"/><stop offset="0.35" stop-color="#4a2404"/><stop offset="1" stop-color="#160800"/></linearGradient>
<linearGradient id="lw1_1" x1="0" y1="0" x2="0" y2="1"><stop offset="0" stop-color="#b08020"/><stop offset="0.45" stop-color="#6a3c08"/><stop offset="1" stop-color="#241002"/></linearGradient>
<linearGradient id="lw1_2" x1="0" y1="0" x2="0" y2="1"><stop offset="0" stop-color="#6a3c08"/><stop offset="0.3" stop-color="#2a1202"/><stop offset="1" stop-color="#0c0400"/></linearGradient>
<linearGradient id="lw1_3" x1="0" y1="0" x2="0" y2="1"><stop offset="0" stop-color="#c09838"/><stop offset="0.5" stop-color="#80500c"/><stop offset="1" stop-color="#321804"/></linearGradient>
<linearGradient id="rw1_0" x1="0" y1="0" x2="0" y2="1"><stop offset="0" stop-color="#c09426"/><stop offset="0.5" stop-color="#a87c1c"/><stop offset="1" stop-color="#5a4208"/></linearGradient>
<linearGradient id="rw1_1" x1="0" y1="0" x2="0" y2="1"><stop offset="0" stop-color="#d8b440"/><stop offset="0.6" stop-color="#c09a2c"/><stop offset="1" stop-color="#7a5c10"/></linearGradient>
<linearGradient id="rw1_2" x1="0" y1="0" x2="0" y2="1"><stop offset="0" stop-color="#7a4808"/><stop offset="0.4" stop-color="#3a1c02"/><stop offset="1" stop-color="#160800"/></linearGradient>
<linearGradient id="rw1_3" x1="0" y1="0" x2="0" y2="1"><stop offset="0" stop-color="#a87414"/><stop offset="0.5" stop-color="#6a4208"/><stop offset="1" stop-color="#2a1402"/></linearGradient>
<linearGradient id="rw1_4" x1="0" y1="0" x2="0" y2="1"><stop offset="0" stop-color="#e0c458"/><stop offset="0.6" stop-color="#caa636"/><stop offset="1" stop-color="#86681a"/></linearGradient>
<g filter="url(#soft)">
<polygon points="22.5,323 97,425 97,452 24,344.5" fill="url(#lw1_0)"/>
<polygon points="97,425 226,370 220,387 97,452" fill="url(#rw1_3)"/>
<polygon points="22.5,323 137,294 226,370 97,425" fill="#9c660e" stroke="#9c660e" stroke-width="1.2" stroke-linejoin="round"/>
<g fill="#8e5c0c"><circle cx="24.4" cy="322.4" r="2"/><circle cx="30.3" cy="321.7" r="1.8"/><circle cx="34.7" cy="319.8" r="3.2"/><circle cx="39.4" cy="318.5" r="3"/><circle cx="46.5" cy="317.5" r="2"/><circle cx="50.3" cy="316.2" r="3.1"/><circle cx="56.3" cy="314.2" r="2.5"/><circle cx="61.5" cy="313.4" r="2.8"/><circle cx="67.1" cy="312.5" r="3.1"/><circle cx="71.3" cy="310.7" r="2"/><circle cx="75.6" cy="310" r="3"/><circle cx="82.3" cy="308.6" r="2.2"/><circle cx="86.2" cy="306.8" r="2.6"/><circle cx="92.8" cy="305.7" r="2.5"/><circle cx="96.1" cy="305" r="3.1"/><circle cx="102.7" cy="302.7" r="2.4"/><circle cx="107.4" cy="302.2" r="2.2"/><circle cx="112.2" cy="300" r="1.8"/><circle cx="116.9" cy="299.7" r="2.8"/><circle cx="122.6" cy="297.8" r="2.2"/><circle cx="128.4" cy="296.4" r="1.9"/><circle cx="133.3" cy="295.7" r="1.9"/><circle cx="139.7" cy="296.1" r="2.3"/><circle cx="143.6" cy="300.4" r="2.1"/><circle cx="147.2" cy="303.1" r="2.4"/><circle cx="151.3" cy="306.6" r="2.1"/><circle cx="154.8" cy="309.7" r="2.7"/><circle cx="158.9" cy="313.2" r="2"/><circle cx="162" cy="315.1" r="2.7"/><circle cx="166.7" cy="320" r="3.3"/><circle cx="170.1" cy="322.4" r="2.4"/><circle cx="174.9" cy="327.1" r="2.7"/><circle cx="178.5" cy="329.9" r="2.3"/><circle cx="182.9" cy="333" r="2.6"/><circle cx="186.8" cy="336.9" r="2.7"/><circle cx="191" cy="340.6" r="2"/><circle cx="195.3" cy="344.2" r="2.8"/><circle cx="198.7" cy="346.5" r="3.2"/><circle cx="203.4" cy="351.5" r="2.5"/><circle cx="207.5" cy="354.9" r="2.6"/><circle cx="211.6" cy="358.3" r="2"/><circle cx="214.2" cy="360.1" r="2.6"/><circle cx="219.2" cy="364.5" r="3.1"/><circle cx="223.4" cy="367.6" r="2.3"/></g>
<linearGradient id="mg1" gradientUnits="userSpaceOnUse" x1="137" y1="294" x2="97" y2="425"><stop offset="0.25" stop-color="#000"/><stop offset="0.7" stop-color="#fff"/></linearGradient>
<mask id="mk1" maskUnits="userSpaceOnUse" x="19.5" y="291" width="212.5" height="140"><rect x="19.5" y="291" width="212.5" height="140" fill="url(#mg1)"/></mask>
<g clip-path="url(#clip1)"><rect x="19.5" y="291" width="212.5" height="140" filter="url(#tex1)"/><g mask="url(#mk1)"><rect x="19.5" y="291" width="212.5" height="140" filter="url(#tex1f)"/></g></g>
<linearGradient id="ov1" gradientUnits="userSpaceOnUse" x1="57.5" y1="309" x2="167" y2="420"><stop offset="0" stop-color="#4a2000" stop-opacity="0.3"/><stop offset="0.55" stop-color="#4a2000" stop-opacity="0"/><stop offset="0.56" stop-color="#ffd23c" stop-opacity="0"/><stop offset="1" stop-color="#ffd23c" stop-opacity="0.14"/></linearGradient>
<polygon points="22.5,323 137,294 226,370 97,425" fill="url(#ov1)"/>
<polygon points="22.5,321.6 26,326.3 27.4,349.5 24,344.5" fill="url(#lw1_2)"/>
<polygon points="25.7,327.6 28.6,331.5 29.9,353.3 27.2,349.2" fill="url(#lw1_0)"/>
<polygon points="28.3,332.2 32.1,337.3 33.4,358.3 29.7,352.9" fill="url(#lw1_0)"/>
<polygon points="31.8,337.1 34.3,340.5 35.6,361.6 33.1,358" fill="url(#lw1_3)"/>
<polygon points="34.1,340.2 35.6,342.2 36.8,363.4 35.4,361.2" fill="url(#lw1_1)"/>
<polygon points="35.3,339.9 37.3,342.7 38.5,365.9 36.6,363" fill="url(#lw1_2)"/>
<polygon points="37.1,342.5 38.9,345 40.1,368.2 38.3,365.6" fill="url(#lw1_0)"/>
<polygon points="38.7,345.1 42.3,350.1 43.4,373.1 39.9,367.9" fill="url(#lw1_0)"/>
<polygon points="42.1,351.6 44.6,355 45.7,376.4 43.2,372.8" fill="url(#lw1_2)"/>
<polygon points="44.4,351.9 47.2,355.7 48.2,380.1 45.4,376.1" fill="url(#lw1_2)"/>
<polygon points="47,357.9 49.9,361.9 50.8,384 48,379.8" fill="url(#lw1_0)"/>
<polygon points="49.7,361.5 52.4,365.3 53.3,387.7 50.6,383.7" fill="url(#lw1_0)"/>
<polygon points="52.2,362.4 54.8,365.9 55.6,391.1 53.1,387.3" fill="url(#lw1_1)"/>
<polygon points="54.5,368.2 58.1,373 58.8,395.8 55.4,390.7" fill="url(#lw1_1)"/>
<polygon points="57.8,371.1 59.3,373.2 60.1,397.6 58.6,395.5" fill="url(#lw1_2)"/>
<polygon points="59.1,374.3 61.7,377.9 62.4,401.1 59.9,397.3" fill="url(#lw1_2)"/>
<polygon points="61.5,377.7 65,382.6 65.7,405.9 62.2,400.8" fill="url(#lw1_0)"/>
<polygon points="64.8,380.4 66.4,382.6 67,407.9 65.5,405.6" fill="url(#lw1_0)"/>
<polygon points="66.2,383.2 68.2,385.9 68.8,410.4 66.8,407.5" fill="url(#lw1_2)"/>
<polygon points="68,386.8 70.2,389.9 70.8,413.4 68.6,410.1" fill="url(#lw1_2)"/>
<polygon points="70,389.4 72.9,393.3 73.4,417.2 70.5,413" fill="url(#lw1_2)"/>
<polygon points="72.6,390.7 74.7,393.5 75.1,419.8 73.1,416.9" fill="url(#lw1_3)"/>
<polygon points="74.4,393.2 75.9,395.2 76.3,421.5 74.9,419.5" fill="url(#lw1_2)"/>
<polygon points="75.7,394.6 77.8,397.6 78.2,424.3 76.1,421.2" fill="url(#lw1_2)"/>
<polygon points="77.6,397.2 79.9,400.4 80.2,427.3 77.9,423.9" fill="url(#lw1_1)"/>
<polygon points="79.7,400.3 82.4,404.1 82.7,431 80,427" fill="url(#lw1_2)"/>
<polygon points="82.2,403.4 85.4,407.8 85.7,435.3 82.5,430.7" fill="url(#lw1_1)"/>
<polygon points="85.2,407.7 88.7,412.4 88.8,440 85.5,435" fill="url(#lw1_1)"/>
<polygon points="88.4,411.9 90.4,414.7 90.6,442.5 88.6,439.6" fill="url(#lw1_1)"/>
<polygon points="90.2,414.9 92.3,417.8 92.4,445.3 90.4,442.2" fill="url(#lw1_0)"/>
<polygon points="92.1,416.9 95.1,420.9 95.1,449.2 92.2,445" fill="url(#lw1_0)"/>
<polygon points="94.8,421.1 96.6,423.5 96.6,451.4 94.9,448.9" fill="url(#lw1_1)"/>
<polygon points="96.4,425.4 97.2,426.5 97.2,452.3 96.4,451.1" fill="url(#lw1_2)"/>
<polygon points="97,426.1 100.7,424.5 100.5,450.2 97,452" fill="url(#rw1_3)"/>
<polygon points="100.3,423.4 104.5,421.5 104.2,448.2 100.1,450.3" fill="url(#rw1_3)"/>
<polygon points="104.1,422.9 108.8,420.9 108.2,446.1 103.8,448.4" fill="url(#rw1_2)"/>
<polygon points="108.4,421.4 113,419.4 112.3,443.9 107.9,446.3" fill="url(#rw1_0)"/>
<polygon points="112.6,418.8 114.8,417.9 113.9,443 111.9,444.1" fill="url(#rw1_1)"/>
<polygon points="114.4,418.3 119.3,416.2 118.3,440.8 113.6,443.2" fill="url(#rw1_0)"/>
<polygon points="118.9,415.3 122.1,413.9 121,439.3 117.9,441" fill="url(#rw1_0)"/>
<polygon points="121.8,415.7 126,413.9 124.7,437.4 120.6,439.5" fill="url(#rw1_0)"/>
<polygon points="125.6,412.4 127.8,411.5 126.4,436.5 124.3,437.6" fill="url(#rw1_0)"/>
<polygon points="127.4,413.7 129.6,412.8 128.1,435.6 126,436.7" fill="url(#rw1_4)"/>
<polygon points="129.2,412.5 134.5,410.3 132.7,433.1 127.7,435.8" fill="url(#rw1_0)"/>
<polygon points="134.1,410 137.3,408.6 135.4,431.7 132.3,433.3" fill="url(#rw1_1)"/>
<polygon points="136.9,409.6 139.2,408.6 137.2,430.7 135,431.9" fill="url(#rw1_0)"/>
<polygon points="138.8,407.1 142.1,405.7 140,429.3 136.9,430.9" fill="url(#rw1_3)"/>
<polygon points="141.7,405 144,404 141.8,428.3 139.6,429.5" fill="url(#rw1_1)"/>
<polygon points="143.6,405 145.9,404 143.6,427.4 141.4,428.5" fill="url(#rw1_0)"/>
<polygon points="145.5,406 148.4,404.7 146,426.1 143.2,427.6" fill="url(#rw1_1)"/>
<polygon points="148,402.5 153,400.4 150.4,423.8 145.7,426.3" fill="url(#rw1_3)"/>
<polygon points="152.6,401.5 157.2,399.6 154.4,421.6 150,424" fill="url(#rw1_3)"/>
<polygon points="156.9,399.4 159.7,398.1 156.8,420.4 154.1,421.8" fill="url(#rw1_0)"/>
<polygon points="159.3,398.5 162.3,397.2 159.3,419.1 156.4,420.6" fill="url(#rw1_4)"/>
<polygon points="161.9,397.9 166.3,396 163.1,417.1 158.9,419.3" fill="url(#rw1_4)"/>
<polygon points="165.9,397.2 168.5,396.1 165.2,416 162.7,417.3" fill="url(#rw1_1)"/>
<polygon points="168.1,395.2 170.3,394.3 166.9,415.1 164.8,416.2" fill="url(#rw1_0)"/>
<polygon points="169.9,394.8 174.9,392.7 171.3,412.7 166.5,415.3" fill="url(#rw1_4)"/>
<polygon points="174.5,390.6 179,388.7 175.2,410.7 170.9,412.9" fill="url(#rw1_1)"/>
<polygon points="178.6,391.3 182.9,389.5 178.9,408.7 174.8,410.9" fill="url(#rw1_0)"/>
<polygon points="182.5,390.3 185,389.3 180.9,407.7 178.5,408.9" fill="url(#rw1_0)"/>
<polygon points="184.6,386.4 187.2,385.3 183,406.6 180.5,407.9" fill="url(#rw1_1)"/>
<polygon points="186.8,387.5 192.3,385.2 187.8,404 182.6,406.8" fill="url(#rw1_0)"/>
<polygon points="191.9,383.1 196.9,380.9 192.2,401.7 187.5,404.2" fill="url(#rw1_0)"/>
<polygon points="196.5,383.6 198.6,382.7 193.9,400.8 191.9,401.9" fill="url(#rw1_0)"/>
<polygon points="198.2,382.4 202.1,380.8 197.2,399 193.5,401" fill="url(#rw1_4)"/>
<polygon points="201.7,379.6 205.8,377.8 200.8,397.2 196.8,399.2" fill="url(#rw1_0)"/>
<polygon points="205.4,378.7 210.9,376.4 205.6,394.6 200.4,397.4" fill="url(#rw1_4)"/>
<polygon points="210.5,376 215.3,374 209.8,392.4 205.2,394.8" fill="url(#rw1_3)"/>
<polygon points="215,376.4 217.7,375.2 212,391.2 209.5,392.6" fill="url(#rw1_4)"/>
<polygon points="217.3,372.4 222.8,370.1 216.9,388.6 211.7,391.4" fill="url(#rw1_1)"/>
<polygon points="222.4,373.3 225.5,372 219.5,387.2 216.5,388.8" fill="url(#rw1_0)"/>
<polygon points="225.1,369.7 226.4,369.1 220.4,386.8 219.2,387.4" fill="url(#rw1_4)"/>
<path d="M170.5,330.9l0.7,-6.3M188,371.9l0.5,-3.4M130.8,305.1l0.7,-5.8M38.5,328.1l0.7,-5.6M180.6,354.6l0.7,-5.5M184.8,370.3l0.9,-5.9M163.6,369l0.3,-6.7M65,327.6l0.5,-5.4M142.4,324.5l0.4,-3.5M131.1,313.2l0.6,-3.3M159,352.1l0.5,-3.3M149.2,315l0.9,-3.9M157.2,356.8l0.3,-4.1M121.2,361.4l0.9,-4.1M150.1,337.1l0.7,-6.9M143.9,308.4l0.8,-5.5M131.4,317.8l0.5,-6.5M125.7,373.5l0.9,-6.7M122.3,356.3l1,-3.5M106.7,307.1l0.6,-5.5M119.6,309.9l0.5,-6.4M90.6,312.9l0.8,-5M99.9,320l0.2,-3.3M75.9,367.9l1,-4.5M205.8,357.1l0.6,-6.3M168.7,343.9l0.2,-6.1M130.9,361.2l0.4,-4M112.2,349.1l0.8,-5.1" stroke="#f4ecd8" stroke-width="0.7" stroke-opacity="0.75" fill="none"/>
</g>
<path d="M24,344.5L97,452L220,387" stroke="#1a1a1a" stroke-width="0.9" fill="none"/>
<clipPath id="clip2"><polygon points="334.5,323 449.5,296 543.5,370 409,428"/></clipPath>
<linearGradient id="lw2_0" x1="0" y1="0" x2="0" y2="1"><stop offset="0" stop-color="#b88e3c"/><stop offset="0.5" stop-color="#7a5418"/><stop offset="1" stop-color="#2e1a04"/></linearGradient>
<linearGradient id="lw2_1" x1="0" y1="0" x2="0" y2="1"><stop offset="0" stop-color="#e8d8a0"/><stop offset="0.35" stop-color="#a8843a"/><stop offset="1" stop-color="#4a300c"/></linearGradient>
<linearGradient id="lw2_2" x1="0" y1="0" x2="0" y2="1"><stop offset="0" stop-color="#6e4a14"/><stop offset="0.5" stop-color="#402806"/><stop offset="1" stop-color="#180c00"/></linearGradient>
<linearGradient id="lw2_3" x1="0" y1="0" x2="0" y2="1"><stop offset="0" stop-color="#9a7228"/><stop offset="0.5" stop-color="#5e3e0e"/><stop offset="1" stop-color="#261602"/></linearGradient>
<linearGradient id="rw2_0" x1="0" y1="0" x2="0" y2="1"><stop offset="0" stop-color="#c09c48"/><stop offset="0.5" stop-color="#94702a"/><stop offset="1" stop-color="#4e360a"/></linearGradient>
<linearGradient id="rw2_1" x1="0" y1="0" x2="0" y2="1"><stop offset="0" stop-color="#d8c080"/><stop offset="0.6" stop-color="#a88838"/><stop offset="1" stop-color="#6a4c14"/></linearGradient>
<linearGradient id="rw2_2" x1="0" y1="0" x2="0" y2="1"><stop offset="0" stop-color="#6e4c10"/><stop offset="0.4" stop-color="#442a06"/><stop offset="1" stop-color="#1c0e00"/></linearGradient>
<linearGradient id="rw2_3" x1="0" y1="0" x2="0" y2="1"><stop offset="0" stop-color="#a07c2c"/><stop offset="0.5" stop-color="#74521a"/><stop offset="1" stop-color="#362004"/></linearGradient>
<linearGradient id="rw2_4" x1="0" y1="0" x2="0" y2="1"><stop offset="0" stop-color="#f0e2b4"/><stop offset="0.5" stop-color="#c0a050"/><stop offset="1" stop-color="#7a5c20"/></linearGradient>
<g filter="url(#soft)">
<polygon points="334.5,323 409,428 409,450 335.6,341" fill="url(#lw2_0)"/>
<polygon points="409,428 543.5,370 538,384 409,450" fill="url(#rw2_3)"/>
<polygon points="334.5,323 449.5,296 543.5,370 409,428" fill="#9a7420" stroke="#9a7420" stroke-width="1.2" stroke-linejoin="round"/>
<g fill="#8a6820"><circle cx="337.6" cy="323" r="2.1"/><circle cx="341.4" cy="321.7" r="1.8"/><circle cx="346.5" cy="320.2" r="1.6"/><circle cx="352.4" cy="318.6" r="1.9"/><circle cx="357.3" cy="317.4" r="1.7"/><circle cx="363.8" cy="316.5" r="1.5"/><circle cx="368" cy="315.6" r="1.5"/><circle cx="372.8" cy="313.9" r="1.9"/><circle cx="378.9" cy="312.5" r="1.5"/><circle cx="382.5" cy="312.1" r="1.5"/><circle cx="388.6" cy="310.9" r="2.2"/><circle cx="394.1" cy="308.7" r="1.8"/><circle cx="398.3" cy="308.3" r="1.6"/><circle cx="403.2" cy="307.6" r="2.3"/><circle cx="408.3" cy="306.3" r="1.5"/><circle cx="414.1" cy="305.1" r="2.3"/><circle cx="419.5" cy="303.5" r="1.8"/><circle cx="425.6" cy="301.7" r="1.6"/><circle cx="429.1" cy="301.2" r="2"/><circle cx="436.1" cy="299" r="2.2"/><circle cx="441.3" cy="298.4" r="1.5"/><circle cx="444.7" cy="296.9" r="1.7"/><circle cx="451.9" cy="297.7" r="1.8"/><circle cx="454.8" cy="300.6" r="1.5"/><circle cx="460.4" cy="304.9" r="1.6"/><circle cx="464.4" cy="307.8" r="1.9"/><circle cx="468.4" cy="310.9" r="1.8"/><circle cx="473.1" cy="315.2" r="2.2"/><circle cx="476.9" cy="318.2" r="1.5"/><circle cx="481.9" cy="321.3" r="2.3"/><circle cx="485.8" cy="324.7" r="2.2"/><circle cx="490.3" cy="328" r="2"/><circle cx="492.7" cy="330.5" r="1.5"/><circle cx="498.2" cy="334.1" r="1.8"/><circle cx="502.8" cy="338" r="2.4"/><circle cx="506.3" cy="340.6" r="2.3"/><circle cx="510" cy="343.9" r="2.3"/><circle cx="515.7" cy="348.4" r="1.6"/><circle cx="519.1" cy="350.8" r="1.7"/><circle cx="522.9" cy="353.7" r="1.4"/><circle cx="528" cy="357.5" r="2"/><circle cx="531.5" cy="361" r="2"/><circle cx="535.9" cy="364.6" r="2"/><circle cx="541" cy="368.3" r="2.3"/></g>
<path d="M334.8,324.1L336.5,318.5L337.8,324.1ZM335.6,323.8L338,318.1L339.3,323.8ZM338.1,323.2L340.4,319.3L341.8,323.2ZM340.9,322.6L342.4,319L344,322.6ZM343.5,322L344.5,318.3L346.3,322ZM346.1,321.4L348.1,317.8L349.2,321.4ZM349.5,320.6L350.9,315.3L352.8,320.6ZM350.4,320.3L353.1,316.2L354.7,320.3ZM354.1,319.4L356.6,314.1L358,319.4ZM356.1,319L357.8,313.1L359.8,319ZM358.8,318.4L361.3,314.4L362.3,318.4ZM362.7,317.6L363.9,313.6L365.3,317.6ZM363.5,317.2L365.3,313.3L367.3,317.2ZM366.5,316.5L368.9,312L370.8,316.5ZM368.9,316.1L370.5,310.2L371.9,316.1ZM371.7,315.4L373.1,310.4L374.7,315.4ZM374.1,314.9L375.4,308.5L376.9,314.9ZM377.1,314.2L378.5,310.3L379.9,314.2ZM379.8,313.5L381.7,308.4L382.9,313.5ZM382.7,312.8L384.5,308.5L385.6,312.8ZM384.9,312.4L386.3,306.4L387.3,312.4ZM386.4,311.8L388.3,307.7L390.6,311.8ZM389.7,311L391.5,305L394,311ZM391.7,310.7L393.9,307L394.7,310.7ZM395.3,309.9L397.1,305.9L397.9,309.9ZM397.3,309.3L398.9,305.8L400.9,309.3ZM398.9,308.9L401.1,305.1L403.2,308.9ZM402.6,308.1L404.5,304L405.8,308.1ZM405.5,307.5L406.8,301.3L408.4,307.5ZM406.8,307L408.8,302.6L410.9,307ZM409.6,306.5L411.3,301.5L413.1,306.5ZM411.9,306L413.8,300.3L414.5,306ZM414.4,305.3L416.8,301.1L417.9,305.3ZM417.3,304.7L418.6,299.7L420.5,304.7ZM419.1,304.1L421.1,297.9L423.4,304.1ZM423.1,303.3L424.5,299.7L426.9,303.3ZM425,302.9L427.3,298.1L428.2,302.9ZM427.7,302.3L429.5,298.8L430.3,302.3ZM429.7,301.8L431.9,298.1L432.5,301.8ZM432.4,301.1L434.2,297.1L436.1,301.1ZM435,300.4L437.1,294L438.8,300.4ZM438.6,299.7L440.9,294.6L441.9,299.7ZM441.2,299.1L442.8,293.4L444.3,299.1ZM441.6,298.9L443.7,294.7L445.5,298.9ZM445.9,297.9L448.2,292.4L449.4,297.9ZM448.7,298.2L450.4,292.7L452.1,298.2ZM450.7,300.2L453.7,296.5L455.1,300.2ZM453.4,301.9L455.1,297L456.7,301.9ZM454.6,303.1L457.2,298.9L458.6,303.1ZM457.2,304.8L459.3,298.7L460.2,304.8ZM459.3,306.9L461.9,301.4L463.7,306.9ZM461.9,308.2L462.8,303.3L464.4,308.2ZM463.5,310L465.1,306L467.3,310ZM465.5,311.6L466.9,305.2L469.2,311.6ZM467.3,313.2L469.1,308.2L471.5,313.2ZM468.8,314.3L471.5,308L472.8,314.3ZM471.1,316.2L473.6,310.6L475.4,316.2ZM473.4,317.3L474.3,313.3L475.8,317.3ZM474.8,318.8L477.2,314.2L478.4,318.8ZM477.1,320.9L479.9,316.9L481.4,320.9ZM480.4,323.2L482.5,319.7L484,323.2ZM481.5,324.3L483.8,320.3L485.7,324.3ZM483,325.4L484.7,320.8L486.8,325.4ZM486.4,327.9L488,323.7L489.7,327.9ZM487.6,328.7L489.6,322.6L490.7,328.7ZM491.2,331.3L492.6,326.9L493.6,331.3ZM492.1,332.1L493.9,326L494.8,332.1ZM493.8,333.5L495.8,329.2L496.6,333.5ZM496.9,335.8L498.1,330.3L499.4,335.8ZM498.7,337.8L500.8,332.4L502.6,337.8ZM500.2,338.6L501.4,332.3L503.2,338.6ZM502.5,340.7L504.9,337L506.4,340.7ZM504.4,342.1L505.7,337L507.8,342.1ZM506.5,343.3L507.5,338.8L508.9,343.3ZM508.5,345.3L509.9,339.9L511.9,345.3ZM511,347.4L513.3,341.5L514.7,347.4ZM512.4,348.4L513.9,342.4L516,348.4ZM515.1,350.6L517,345.2L518.7,350.6ZM517.3,352.3L518.7,346.6L520.9,352.3ZM518.7,353.3L520.7,346.8L522,353.3ZM520.5,354.8L522.8,349.6L524.1,354.8ZM524.1,357.4L525.3,352.5L527.1,357.4ZM524.5,358.3L526.9,353.4L528.9,358.3ZM528.1,360.3L529.1,354.6L530.5,360.3ZM529.8,361.8L531.6,358.1L532.5,361.8ZM532.1,363.6L534,359.7L534.7,363.6ZM533.3,365L535.6,360.5L537.1,365ZM536.1,367.2L538.1,363.4L540,367.2ZM537.8,367.9L538.6,363L540.2,367.9ZM538.9,369.4L540.7,363.8L542.8,369.4Z" fill="#a07c30"/>
<linearGradient id="mg2" gradientUnits="userSpaceOnUse" x1="449.5" y1="296" x2="409" y2="428"><stop offset="0.25" stop-color="#000"/><stop offset="0.7" stop-color="#fff"/></linearGradient>
<mask id="mk2" maskUnits="userSpaceOnUse" x="331.5" y="293" width="218" height="141"><rect x="331.5" y="293" width="218" height="141" fill="url(#mg2)"/></mask>
<g clip-path="url(#clip2)"><rect x="331.5" y="293" width="218" height="141" filter="url(#tex2)"/><g mask="url(#mk2)"><rect x="331.5" y="293" width="218" height="141" filter="url(#tex2f)"/></g></g>
<linearGradient id="ov2" gradientUnits="userSpaceOnUse" x1="369.5" y1="311" x2="479" y2="423"><stop offset="0" stop-color="#4a2c00" stop-opacity="0.0"/><stop offset="0.55" stop-color="#4a2c00" stop-opacity="0"/><stop offset="0.56" stop-color="#ffe080" stop-opacity="0"/><stop offset="1" stop-color="#ffe080" stop-opacity="0.0"/></linearGradient>
<polygon points="334.5,323 449.5,296 543.5,370 409,428" fill="url(#ov2)"/>
<path d="M335.6,341L334.5,320.7Q336.1,318 336.8,324L337.9,344.4Z" fill="url(#lw2_3)"/>
<path d="M337.7,344L336.6,325.2Q338.2,322.3 339,328.6L340,347.6Z" fill="url(#lw2_3)"/>
<path d="M339.8,347.3L338.8,323.4Q340.6,319.9 341.7,327.6L342.7,351.5Z" fill="url(#lw2_2)"/>
<path d="M342.5,351.2L341.5,333.1Q343.2,330 344,336.7L345,355Z" fill="url(#lw2_3)"/>
<path d="M344.8,354.6L343.8,334.7Q346.2,330 347.7,340.2L348.6,360.3Z" fill="url(#lw2_0)"/>
<path d="M348.4,360L347.5,336.2Q348.9,333.7 349.6,339.2L350.5,363.1Z" fill="url(#lw2_0)"/>
<path d="M350.3,362.8L349.4,342.2Q350.8,339.8 351.4,345L352.2,365.7Z" fill="url(#lw2_0)"/>
<path d="M352,365.4L351.2,347.9Q352.9,344.9 353.7,351.6L354.6,369.2Z" fill="url(#lw2_3)"/>
<path d="M354.3,368.8L353.5,348.3Q355.4,344.8 356.5,352.5L357.2,373.1Z" fill="url(#lw2_2)"/>
<path d="M357,372.8L356.2,353.7Q357.8,350.9 358.6,357L359.3,376.2Z" fill="url(#lw2_1)"/>
<path d="M359.1,375.9L358.3,351.2Q360.8,346.4 362.4,357L363.1,381.8Z" fill="url(#lw2_3)"/>
<path d="M362.9,381.5L362.2,362Q364.2,358.1 365.4,366.5L366,386.2Z" fill="url(#lw2_0)"/>
<path d="M365.8,385.9L365.2,361.4Q367.5,356.8 369,366.7L369.5,391.4Z" fill="url(#lw2_2)"/>
<path d="M369.3,391.1L368.7,371.6Q370.4,368.5 371.4,375.3L371.9,394.9Z" fill="url(#lw2_0)"/>
<path d="M371.7,394.6L371.1,372.1Q373.2,368 374.5,376.9L375,399.6Z" fill="url(#lw2_2)"/>
<path d="M374.8,399.3L374.3,382Q376.3,378.3 377.4,386.4L377.9,403.8Z" fill="url(#lw2_0)"/>
<path d="M377.7,403.5L377.2,382.6Q379.6,377.8 381.2,388.3L381.6,409.4Z" fill="url(#lw2_0)"/>
<path d="M381.4,409L381,382.8Q383.1,378.7 384.4,387.7L384.8,414Z" fill="url(#lw2_0)"/>
<path d="M384.6,413.7L384.2,387.2Q385.3,385.4 385.7,389.2L386,415.9Z" fill="url(#lw2_2)"/>
<path d="M385.8,415.5L385.4,389.3Q387.1,386.3 388,392.9L388.3,419.2Z" fill="url(#lw2_3)"/>
<path d="M388.1,418.9L387.7,395.8Q389.8,391.7 391.1,400.6L391.4,423.9Z" fill="url(#lw2_1)"/>
<path d="M391.2,423.5L390.9,404.8Q392.7,401.4 393.7,408.7L393.9,427.6Z" fill="url(#lw2_1)"/>
<path d="M393.7,427.3L393.5,401.3Q395.5,397.3 396.8,405.9L397,432.1Z" fill="url(#lw2_1)"/>
<path d="M396.7,431.8L396.6,413Q398.4,409.6 399.4,417L399.5,435.9Z" fill="url(#lw2_3)"/>
<path d="M399.3,435.6L399.2,412.7Q400.4,410.7 400.8,415L400.9,438Z" fill="url(#lw2_1)"/>
<path d="M400.7,437.7L400.6,411.9Q402.3,408.9 403.2,415.6L403.3,441.5Z" fill="url(#lw2_0)"/>
<path d="M403,441.1L402.9,420.3Q404.8,416.8 405.9,424.5L405.9,445.4Z" fill="url(#lw2_2)"/>
<path d="M405.7,445.1L405.6,417.4Q407.7,413.4 409,422L409,449.9Z" fill="url(#lw2_2)"/>
<path d="M408.7,449.6L408.7,424.1Q409.4,423.5 409.2,424.8L409.2,450.3Z" fill="url(#lw2_1)"/>
<path d="M409,450L409,425.3Q411.2,420.1 412.7,423.7L412.5,448.2Z" fill="url(#rw2_1)"/>
<path d="M412.1,448.4L412.3,429.8Q413.8,426.6 414.5,428.8L414.3,447.3Z" fill="url(#rw2_3)"/>
<path d="M413.9,447.5L414.1,424.1Q416.8,417.7 418.7,422.2L418.3,445.3Z" fill="url(#rw2_0)"/>
<path d="M417.9,445.5L418.3,424.7Q421.5,416.6 424,422.2L423.4,442.6Z" fill="url(#rw2_2)"/>
<path d="M423,442.8L423.6,422Q426.4,415.1 428.5,419.9L427.7,440.4Z" fill="url(#rw2_4)"/>
<path d="M427.3,440.6L428.1,422.6Q429.8,419 430.7,421.5L429.8,439.4Z" fill="url(#rw2_1)"/>
<path d="M429.4,439.6L430.3,413.3Q432,409.5 432.9,412.2L432,438.3Z" fill="url(#rw2_0)"/>
<path d="M431.6,438.4L432.5,419.3Q434.2,415.8 435,418.2L433.9,437.2Z" fill="url(#rw2_0)"/>
<path d="M433.5,437.4L434.6,416.3Q437.2,409.9 439.1,414.4L437.9,435.2Z" fill="url(#rw2_3)"/>
<path d="M437.5,435.4L438.7,410.8Q440.9,405.8 442.2,409.3L440.9,433.7Z" fill="url(#rw2_3)"/>
<path d="M440.5,433.9L441.8,414.4Q444,409.3 445.4,412.8L443.9,432.1Z" fill="url(#rw2_1)"/>
<path d="M443.5,432.3L445,412.3Q448,405.1 450.1,410.1L448.5,429.8Z" fill="url(#rw2_2)"/>
<path d="M448.1,430L449.7,412.5Q451.8,407.9 453,411.1L451.2,428.4Z" fill="url(#rw2_2)"/>
<path d="M450.8,428.6L452.6,408.1Q454.9,402.6 456.5,406.4L454.5,426.7Z" fill="url(#rw2_3)"/>
<path d="M454.2,426.9L456.1,403Q458.6,397.1 460.3,401.2L458.2,424.9Z" fill="url(#rw2_2)"/>
<path d="M457.8,425L459.8,405.2Q461.8,401 462.9,403.9L460.7,423.6Z" fill="url(#rw2_0)"/>
<path d="M460.3,423.8L462.5,400.9Q465.2,394.2 467.2,398.9L464.9,421.4Z" fill="url(#rw2_3)"/>
<path d="M464.5,421.6L466.8,403.3Q469,398.4 470.3,401.8L467.8,419.9Z" fill="url(#rw2_0)"/>
<path d="M467.4,420.1L469.9,397.9Q472.2,392.5 473.7,396.3L471.1,418.2Z" fill="url(#rw2_0)"/>
<path d="M470.7,418.4L473.3,403.8Q476.6,395.5 479.2,401.3L476.3,415.6Z" fill="url(#rw2_1)"/>
<path d="M475.9,415.8L478.8,398.8Q480.9,393.9 482.2,397.3L479.2,414.1Z" fill="url(#rw2_0)"/>
<path d="M478.8,414.3L481.8,398.9Q485.1,390.8 487.5,396.4L484.3,411.5Z" fill="url(#rw2_0)"/>
<path d="M483.9,411.7L487.1,397.4Q489.7,391.1 491.6,395.5L488.2,409.5Z" fill="url(#rw2_4)"/>
<path d="M487.8,409.7L491.2,388.3Q493.5,382.9 495,386.6L491.5,407.8Z" fill="url(#rw2_4)"/>
<path d="M491.1,408L494.6,387.4Q497,381.9 498.5,385.8L494.8,406.1Z" fill="url(#rw2_1)"/>
<path d="M494.5,406.3L498.1,384.6Q500.5,378.9 502.2,382.9L498.3,404.3Z" fill="url(#rw2_3)"/>
<path d="M498,404.5L501.8,383.9Q504.2,378.2 505.8,382.1L501.8,402.5Z" fill="url(#rw2_2)"/>
<path d="M501.5,402.7L505.4,385.9Q508.1,379.3 510.1,383.9L505.9,400.4Z" fill="url(#rw2_0)"/>
<path d="M505.5,400.6L509.7,387.6Q512.3,381.3 514.1,385.7L509.8,398.4Z" fill="url(#rw2_3)"/>
<path d="M509.4,398.6L513.7,379.4Q516.9,371.2 519.4,376.9L514.9,395.8Z" fill="url(#rw2_1)"/>
<path d="M514.5,396L519,381.8Q521,377.4 522.2,380.5L517.5,394.5Z" fill="url(#rw2_3)"/>
<path d="M517.1,394.7L521.7,378.8Q524.8,371.4 527,376.5L522.2,392.1Z" fill="url(#rw2_3)"/>
<path d="M521.8,392.3L526.6,377.3Q529.8,369.3 532.3,374.9L527.2,389.5Z" fill="url(#rw2_2)"/>
<path d="M526.8,389.7L531.9,376.4Q535,368.7 537.3,374L532.1,387Z" fill="url(#rw2_2)"/>
<path d="M531.7,387.2L536.9,374.1Q540.2,365.9 542.7,371.6L537.2,384.4Z" fill="url(#rw2_1)"/>
<path d="M536.8,384.6L542.3,372.9Q543.5,370.6 543.9,372.2L538.4,383.8Z" fill="url(#rw2_1)"/>
<path d="M335.6,341L334.5,328.7Q336.7,324.3 338.2,334L339.2,346.4Z" fill="url(#lw2_3)"/>
<path d="M339,346L337.9,332.8Q340,328.8 341.3,337.6L342.3,351Z" fill="url(#lw2_3)"/>
<path d="M342.1,350.6L341.1,338.1Q342.4,335.8 343,340.8L344,353.4Z" fill="url(#lw2_0)"/>
<path d="M343.7,353.1L342.8,339.5Q344.7,335.7 345.9,344L346.8,357.7Z" fill="url(#lw2_2)"/>
<path d="M346.6,357.4L345.7,343.4Q347.5,339.9 348.6,347.5L349.5,361.6Z" fill="url(#lw2_2)"/>
<path d="M349.3,361.3L348.4,347.2Q350.2,343.7 351.3,351.4L352.1,365.6Z" fill="url(#lw2_0)"/>
<path d="M351.9,365.2L351.1,349.5Q352.9,346.1 353.9,353.5L354.7,369.4Z" fill="url(#lw2_2)"/>
<path d="M354.5,369L353.7,352.4Q354.9,350.5 355.3,354.7L356.1,371.4Z" fill="url(#lw2_2)"/>
<path d="M355.9,371.1L355.1,358.1Q357.1,354.2 358.3,362.7L359.1,375.8Z" fill="url(#lw2_0)"/>
<path d="M358.8,375.5L358.1,359.3Q359.6,356.7 360.3,362.4L361,378.7Z" fill="url(#lw2_3)"/>
<path d="M360.8,378.4L360,365.2Q361.3,363.1 361.7,367.6L362.4,380.8Z" fill="url(#lw2_2)"/>
<path d="M362.2,380.5L361.5,366.6Q363,364 363.7,369.7L364.3,383.7Z" fill="url(#lw2_1)"/>
<path d="M364.1,383.3L363.4,368.9Q364.9,366.4 365.5,371.7L366.1,386.3Z" fill="url(#lw2_1)"/>
<path d="M365.9,386L365.3,373.3Q366.7,370.9 367.3,376.3L367.9,389Z" fill="url(#lw2_0)"/>
<path d="M367.7,388.7L367.1,375.6Q368.3,373.6 368.7,377.9L369.3,391Z" fill="url(#lw2_3)"/>
<path d="M369.1,390.7L368.5,373.2Q370.1,370.3 370.9,376.6L371.4,394.2Z" fill="url(#lw2_3)"/>
<path d="M371.2,393.9L370.6,377.6Q372.4,374.4 373.3,381.4L373.8,397.8Z" fill="url(#lw2_1)"/>
<path d="M373.6,397.5L373.1,384.2Q375.2,380.1 376.6,389.2L377,402.6Z" fill="url(#lw2_0)"/>
<path d="M376.8,402.2L376.3,385.6Q377.5,383.8 377.9,387.8L378.3,404.4Z" fill="url(#lw2_2)"/>
<path d="M378.1,404.1L377.6,390.3Q379.3,387.2 380.2,394L380.6,407.9Z" fill="url(#lw2_3)"/>
<path d="M380.4,407.6L380,392Q381.2,390.1 381.6,394.2L382,409.8Z" fill="url(#lw2_0)"/>
<path d="M381.7,409.5L381.3,396Q383.3,392.3 384.4,400.3L384.7,414Z" fill="url(#lw2_0)"/>
<path d="M384.5,413.6L384.2,396.3Q386.2,392.3 387.5,401L387.8,418.5Z" fill="url(#lw2_3)"/>
<path d="M387.6,418.2L387.3,402.5Q388.6,400.3 389.1,405.1L389.4,420.9Z" fill="url(#lw2_3)"/>
<path d="M389.2,420.6L388.9,403.1Q390.2,400.8 390.8,405.8L391.1,423.4Z" fill="url(#lw2_0)"/>
<path d="M390.8,423L390.6,406.3Q392.4,402.7 393.5,410.5L393.8,427.4Z" fill="url(#lw2_2)"/>
<path d="M393.5,427L393.3,411.1Q395.5,406.8 396.8,416.1L397,432.2Z" fill="url(#lw2_1)"/>
<path d="M396.8,431.9L396.6,414.9Q398.1,412.1 398.9,418.1L399,435.2Z" fill="url(#lw2_1)"/>
<path d="M398.8,434.9L398.7,417.1Q400.7,413.1 402,421.8L402.1,439.7Z" fill="url(#lw2_1)"/>
<path d="M401.8,439.4L401.7,423.7Q403.3,420.9 404.1,427.1L404.2,442.8Z" fill="url(#lw2_3)"/>
<path d="M404,442.5L403.9,425.8Q405.1,423.9 405.5,428.1L405.5,444.8Z" fill="url(#lw2_1)"/>
<path d="M405.3,444.5L405.2,430.3Q406.3,428.6 406.6,432.2L406.6,446.5Z" fill="url(#lw2_3)"/>
<path d="M406.4,446.1L406.4,428.5Q407.5,426.6 407.9,430.7L407.9,448.4Z" fill="url(#lw2_2)"/>
<path d="M407.7,448.1L407.7,428.9Q408.9,427.1 409.2,431.1L409.2,450.3Z" fill="url(#lw2_0)"/>
<path d="M409,450L409,434.4Q411.6,428.1 413.4,432.4L413.2,447.8Z" fill="url(#rw2_1)"/>
<path d="M412.9,448L413,430.6Q415.9,423.7 417.9,428.5L417.5,445.6Z" fill="url(#rw2_2)"/>
<path d="M417.2,445.8L417.5,430.5Q419.1,426.9 420,429.4L419.5,444.6Z" fill="url(#rw2_2)"/>
<path d="M419.2,444.8L419.6,426Q422.4,419.2 424.3,423.9L423.7,442.5Z" fill="url(#rw2_0)"/>
<path d="M423.3,442.7L423.9,424.4Q426.9,417.1 429,422.1L428.2,440.2Z" fill="url(#rw2_2)"/>
<path d="M427.8,440.4L428.6,425.3Q431.3,418.8 433.1,423.3L432.2,438.2Z" fill="url(#rw2_0)"/>
<path d="M431.8,438.3L432.7,420.4Q435.1,414.8 436.7,418.7L435.6,436.4Z" fill="url(#rw2_3)"/>
<path d="M435.2,436.6L436.3,423.8Q439.3,416.4 441.5,421.5L440.2,434.1Z" fill="url(#rw2_4)"/>
<path d="M439.8,434.2L441.1,421.7Q443.9,414.9 445.8,419.6L444.3,431.9Z" fill="url(#rw2_1)"/>
<path d="M443.9,432.1L445.4,418Q447.9,412 449.6,416.1L447.9,430.1Z" fill="url(#rw2_3)"/>
<path d="M447.5,430.3L449.2,416.2Q450.9,412.3 451.9,415L450.1,428.9Z" fill="url(#rw2_3)"/>
<path d="M449.8,429.1L451.5,412.3Q453.3,408.4 454.3,411.1L452.4,427.8Z" fill="url(#rw2_1)"/>
<path d="M452,428L453.9,412.6Q456,407.6 457.4,411.1L455.4,426.2Z" fill="url(#rw2_4)"/>
<path d="M455,426.4L457,409.6Q459.1,404.7 460.4,408L458.3,424.8Z" fill="url(#rw2_3)"/>
<path d="M457.9,425L460,408.5Q461.6,405 462.4,407.4L460.2,423.8Z" fill="url(#rw2_3)"/>
<path d="M459.8,424L462,410Q464.5,404.1 466.2,408.1L463.8,421.9Z" fill="url(#rw2_3)"/>
<path d="M463.4,422.1L465.8,408.2Q467.3,404.9 468.1,407.2L465.6,421Z" fill="url(#rw2_0)"/>
<path d="M465.3,421.2L467.7,408.2Q470.7,400.6 473,405.8L470.4,418.6Z" fill="url(#rw2_2)"/>
<path d="M470,418.8L472.6,405.5Q475.1,399.7 476.7,403.7L473.9,416.8Z" fill="url(#rw2_1)"/>
<path d="M473.6,417L476.3,405Q477.7,402.1 478.4,404.1L475.5,416Z" fill="url(#rw2_1)"/>
<path d="M475.1,416.2L478,403.8Q479.7,399.9 480.7,402.6L477.7,414.8Z" fill="url(#rw2_2)"/>
<path d="M477.4,415L480.3,400.1Q481.9,396.4 482.8,398.9L479.8,413.8Z" fill="url(#rw2_3)"/>
<path d="M479.4,414L482.4,401.2Q485.5,393.5 487.8,398.8L484.6,411.3Z" fill="url(#rw2_1)"/>
<path d="M484.2,411.5L487.4,398.2Q490.5,390.6 492.8,395.9L489.3,408.9Z" fill="url(#rw2_3)"/>
<path d="M489,409.1L492.4,396.6Q494.1,392.8 495,395.4L491.5,407.8Z" fill="url(#rw2_2)"/>
<path d="M491.1,408L494.6,397.4Q496.2,394.3 496.9,396.5L493.3,406.9Z" fill="url(#rw2_1)"/>
<path d="M492.9,407.1L496.5,395.1Q498.8,389.6 500.3,393.4L496.6,405.2Z" fill="url(#rw2_0)"/>
<path d="M496.2,405.4L499.9,392.7Q502.1,387.5 503.5,391.1L499.7,403.6Z" fill="url(#rw2_4)"/>
<path d="M499.3,403.8L503.1,389.5Q504.6,386.5 505.2,388.6L501.3,402.8Z" fill="url(#rw2_0)"/>
<path d="M500.9,403L504.8,389.7Q507.9,382.1 510.2,387.3L506,400.4Z" fill="url(#rw2_1)"/>
<path d="M505.6,400.6L509.8,389Q512.9,381.3 515.2,386.6L510.9,397.9Z" fill="url(#rw2_0)"/>
<path d="M510.5,398.1L514.8,384.2Q517.9,376.6 520.2,381.8L515.6,395.5Z" fill="url(#rw2_4)"/>
<path d="M515.2,395.7L519.7,385Q522,379.8 523.4,383.4L518.7,393.9Z" fill="url(#rw2_0)"/>
<path d="M518.3,394.1L523,381.2Q524.8,377.1 525.9,379.9L521.1,392.6Z" fill="url(#rw2_0)"/>
<path d="M520.7,392.8L525.5,380.1Q527.1,376.6 527.9,379L523.1,391.6Z" fill="url(#rw2_3)"/>
<path d="M522.7,391.8L527.5,379.7Q529.6,374.9 531,378.2L526,390.2Z" fill="url(#rw2_0)"/>
<path d="M525.6,390.4L530.6,380.2Q532.5,375.8 533.6,378.9L528.5,388.8Z" fill="url(#rw2_1)"/>
<path d="M528.1,389L533.2,377Q534.9,373.3 535.8,375.9L530.7,387.8Z" fill="url(#rw2_3)"/>
<path d="M530.3,388L535.4,379.1Q537,375.8 537.8,378.1L532.5,386.8Z" fill="url(#rw2_0)"/>
<path d="M532.1,387L537.4,378.1Q538.8,375 539.5,377.1L534.2,386Z" fill="url(#rw2_0)"/>
<path d="M533.8,386.1L539.1,374Q540.7,370.7 541.4,372.9L536,385Z" fill="url(#rw2_0)"/>
<path d="M535.6,385.2L541,376.9Q542.9,372.8 543.9,375.6L538.4,383.8Z" fill="url(#rw2_0)"/>
<path d="M382.1,354.4l0.6,-7.9M440.3,350.3l1,-5.3M412.4,337.9l1,-6.9M432,388.6l0.6,-8.5M440.3,331.2l0.9,-7.9M504.3,381.4l0.2,-8.2M521.8,374.6l0.7,-7.9M357.4,342.1l0.3,-6.9M467.4,326.4l1,-6.3M424.4,388.5l0.3,-8.5M495.6,357.5l0.5,-8.1M439.1,333.3l0.6,-6M484.4,371.1l0.9,-8.6M420.7,383l0.8,-6M452,360.4l0.4,-7.8M437.8,320.4l0.7,-4.5M410.9,309.6l0.6,-5.5M516,359.6l0.5,-8.5M382.1,314.7l0.4,-6M384.6,340.3l0.4,-7.2M451.9,363.9l0.5,-8.2M416.9,312.6l1,-5.2M421.8,335.1l0.8,-5.4M451.7,331l0.6,-8.3M346.8,330.1l0.7,-6.8M488.4,382.7l0.3,-5.4M424.5,315.4l0.9,-7.3M456,397.5l0.3,-6M432.5,376.9l0.8,-4.9M421.2,318.9l0.4,-8.9M459.6,313.3l1,-6.8M479.4,388.3l0.5,-4.6M450.8,333.7l0.2,-7.4M399.6,350.3l0.5,-7.3M414.8,373.9l0.8,-7.8M373.5,320.4l0.4,-4.2M404.9,324.8l0.7,-6.8M494.3,340.1l0.5,-4.9M474.6,375.1l0.8,-4.2M452.5,302.4l0.6,-5.9M433.7,303.1l1,-5.8M488.9,367.9l0.2,-6.3M421.6,347l0.5,-8M438.3,328.2l0.7,-6.6M421.1,338.2l0.9,-6.3M362.2,330.6l0.2,-7.7" stroke="#f4ecd8" stroke-width="0.7" stroke-opacity="0.75" fill="none"/>
</g>
<path d="M335.6,341L409,450L538,384" stroke="#1a1a1a" stroke-width="0.9" fill="none"/>
<g font-family="'Liberation Serif', serif" fill="#1a1a1a" font-size="14.1px" text-anchor="middle">
<text x="17.3" y="312.9" font-size="14px">nm</text>
<text x="17.4" y="325.9">8</text>
<text x="328.6" y="312.9" font-size="14px">nm</text>
<text x="328.7" y="325.9">8</text>
<text x="13.4" y="341.6">−8</text>
<text x="324.7" y="339.9">−8</text>
<text transform="translate(20.4,351.4) rotate(237)" y="4.4">10</text>
<text transform="translate(35.8,375.6) rotate(237)" y="4.4">7.5</text>
<text transform="translate(50.7,395.7) rotate(237)" y="4.4">5</text>
<text transform="translate(68,423.6) rotate(237)" y="4.4">2.5</text>
<text transform="translate(85.6,449) rotate(237)" y="4.4">0</text>
<text transform="translate(32,396.5) rotate(237)" y="4.4">μm</text>
<text transform="translate(104.5,456.4) rotate(-27)" y="4.4">0</text>
<text transform="translate(138,439.8) rotate(-27)" y="4.4">2.5</text>
<text transform="translate(166.2,424.4) rotate(-27)" y="4.4">5</text>
<text transform="translate(191,411.6) rotate(-27)" y="4.4">7.5</text>
<text transform="translate(222.4,395.6) rotate(-27)" y="4.4">10</text>
<text transform="translate(180.2,429.6) rotate(-27)" y="4.4">μm</text>
<text transform="translate(332.2,348) rotate(237)" y="4.4">10</text>
<text transform="translate(347.4,372.1) rotate(237)" y="4.4">7.5</text>
<text transform="translate(362.7,395.2) rotate(237)" y="4.4">5</text>
<text transform="translate(377.9,421.5) rotate(237)" y="4.4">2.5</text>
<text transform="translate(397.3,449.2) rotate(237)" y="4.4">0</text>
<text transform="translate(344.7,397.4) rotate(237)" y="4.4">μm</text>
<text transform="translate(417.6,455.8) rotate(-27)" y="4.4">0</text>
<text transform="translate(450.2,439.2) rotate(-27)" y="4.4">2.5</text>
<text transform="translate(477.8,423.8) rotate(-27)" y="4.4">5</text>
<text transform="translate(504.9,409.3) rotate(-27)" y="4.4">7.5</text>
<text transform="translate(536.3,393.3) rotate(-27)" y="4.4">10</text>
<text transform="translate(493.3,429.6) rotate(-27)" y="4.4">μm</text>
</g>
<g font-family="'Liberation Serif', serif" fill="#1a1a1a" font-size="14.65px">
<text x="7.4" y="450.5"><tspan font-style="italic">R</tspan><tspan font-size="9.5px" font-style="italic" dy="3">a</tspan><tspan dy="-3">: 1.1 nm</tspan></text>
<text x="7.4" y="467.3"><tspan font-style="italic">R</tspan><tspan font-size="9.5px" dy="3">pv</tspan><tspan dy="-3">: 31 nm</tspan></text>
<text x="323.3" y="451.4"><tspan font-style="italic">R</tspan><tspan font-size="9.5px" font-style="italic" dy="3">a</tspan><tspan dy="-3">: 2.6 nm</tspan></text>
<text x="323.3" y="467.8"><tspan font-style="italic">R</tspan><tspan font-size="9.5px" dy="3">pv</tspan><tspan dy="-3">: 27 nm</tspan></text>
</g>
</svg>
</body></html>
